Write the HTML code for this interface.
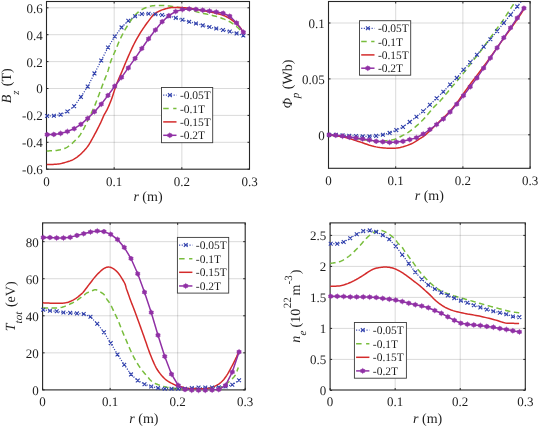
<!DOCTYPE html>
<html><head><meta charset="utf-8"><style>
html,body{margin:0;padding:0;background:#fff;}
body{width:538px;height:427px;overflow:hidden;font-family:"Liberation Serif",serif;}
svg{display:block;filter:blur(0.45px);}
text{text-rendering:geometricPrecision;}
</style></head><body>
<svg width="538" height="427" viewBox="0 0 538 427">
<rect width="538" height="427" fill="#fff"/>
<clipPath id="c1"><rect x="46.5" y="1.5" width="203.0" height="167.7"/></clipPath>
<line x1="46.5" y1="142.30" x2="249.5" y2="142.30" stroke="#262626" stroke-opacity="0.17" stroke-width="1"/>
<line x1="46.5" y1="115.40" x2="249.5" y2="115.40" stroke="#262626" stroke-opacity="0.17" stroke-width="1"/>
<line x1="46.5" y1="88.50" x2="249.5" y2="88.50" stroke="#262626" stroke-opacity="0.17" stroke-width="1"/>
<line x1="46.5" y1="61.60" x2="249.5" y2="61.60" stroke="#262626" stroke-opacity="0.17" stroke-width="1"/>
<line x1="46.5" y1="34.70" x2="249.5" y2="34.70" stroke="#262626" stroke-opacity="0.17" stroke-width="1"/>
<line x1="46.5" y1="7.80" x2="249.5" y2="7.80" stroke="#262626" stroke-opacity="0.17" stroke-width="1"/>
<line x1="114.17" y1="1.5" x2="114.17" y2="169.2" stroke="#262626" stroke-opacity="0.17" stroke-width="1"/>
<line x1="181.83" y1="1.5" x2="181.83" y2="169.2" stroke="#262626" stroke-opacity="0.17" stroke-width="1"/>
<path d="M46.5,169.20 h2 M249.5,169.20 h-2 M46.5,142.30 h2 M249.5,142.30 h-2 M46.5,115.40 h2 M249.5,115.40 h-2 M46.5,88.50 h2 M249.5,88.50 h-2 M46.5,61.60 h2 M249.5,61.60 h-2 M46.5,34.70 h2 M249.5,34.70 h-2 M46.5,7.80 h2 M249.5,7.80 h-2 M46.50,169.2 v-2 M46.50,1.5 v2 M114.17,169.2 v-2 M114.17,1.5 v2 M181.83,169.2 v-2 M181.83,1.5 v2 M249.50,169.2 v-2 M249.50,1.5 v2" stroke="#262626" stroke-width="1" fill="none"/>
<rect x="46.5" y="1.5" width="203.0" height="167.7" fill="none" stroke="#262626" stroke-width="1.1"/>
<g clip-path="url(#c1)"><path d="M46.50,150.90 L46.93,150.90 L47.49,150.89 L48.16,150.89 L48.91,150.88 L49.70,150.87 L50.50,150.86 L51.28,150.83 L52.00,150.80 L52.68,150.76 L53.37,150.72 L54.05,150.67 L54.74,150.61 L55.42,150.55 L56.09,150.48 L56.75,150.39 L57.40,150.30 L58.04,150.20 L58.67,150.08 L59.29,149.96 L59.91,149.83 L60.51,149.69 L61.11,149.54 L61.71,149.38 L62.30,149.20 L62.88,149.02 L63.46,148.83 L64.02,148.63 L64.58,148.43 L65.14,148.20 L65.69,147.96 L66.25,147.69 L66.80,147.40 L67.36,147.08 L67.93,146.73 L68.49,146.35 L69.06,145.96 L69.61,145.55 L70.16,145.13 L70.69,144.72 L71.20,144.30 L71.69,143.88 L72.17,143.44 L72.63,142.99 L73.08,142.54 L73.52,142.09 L73.95,141.64 L74.38,141.21 L74.80,140.80 L75.20,140.44 L75.57,140.13 L75.93,139.84 L76.28,139.56 L76.64,139.25 L77.02,138.89 L77.44,138.45 L77.90,137.90 L78.41,137.24 L78.97,136.50 L79.56,135.69 L80.18,134.82 L80.80,133.90 L81.42,132.95 L82.02,131.98 L82.60,131.00 L83.14,130.02 L83.66,129.02 L84.16,128.01 L84.66,126.96 L85.17,125.86 L85.71,124.71 L86.28,123.49 L86.90,122.20 L87.59,120.78 L88.36,119.22 L89.17,117.58 L89.99,115.89 L90.82,114.20 L91.61,112.56 L92.34,111.01 L93.00,109.60 L93.57,108.34 L94.08,107.19 L94.54,106.12 L94.96,105.10 L95.37,104.11 L95.77,103.11 L96.17,102.09 L96.60,101.00 L97.04,99.86 L97.48,98.71 L97.92,97.53 L98.36,96.35 L98.79,95.16 L99.23,93.97 L99.66,92.78 L100.10,91.60 L100.53,90.43 L100.96,89.28 L101.39,88.12 L101.81,86.97 L102.24,85.81 L102.68,84.63 L103.13,83.43 L103.60,82.20 L104.09,80.94 L104.60,79.65 L105.13,78.35 L105.67,77.03 L106.20,75.69 L106.72,74.36 L107.23,73.02 L107.70,71.70 L108.14,70.38 L108.54,69.05 L108.92,67.71 L109.29,66.38 L109.66,65.05 L110.04,63.72 L110.45,62.41 L110.90,61.10 L111.38,59.81 L111.89,58.53 L112.42,57.27 L112.97,56.01 L113.52,54.74 L114.09,53.48 L114.65,52.20 L115.20,50.90 L115.75,49.57 L116.31,48.22 L116.87,46.85 L117.44,45.47 L118.00,44.11 L118.57,42.77 L119.14,41.46 L119.70,40.20 L120.26,38.98 L120.83,37.78 L121.40,36.61 L121.96,35.47 L122.53,34.35 L123.09,33.27 L123.65,32.22 L124.20,31.20 L124.74,30.23 L125.27,29.32 L125.80,28.44 L126.32,27.59 L126.85,26.76 L127.38,25.92 L127.93,25.08 L128.50,24.20 L129.08,23.30 L129.65,22.38 L130.24,21.45 L130.83,20.52 L131.45,19.59 L132.09,18.68 L132.77,17.78 L133.50,16.90 L134.26,16.03 L135.05,15.16 L135.87,14.30 L136.72,13.45 L137.60,12.63 L138.53,11.84 L139.49,11.09 L140.50,10.40 L141.56,9.75 L142.69,9.13 L143.86,8.54 L145.06,7.99 L146.29,7.49 L147.53,7.04 L148.77,6.64 L150.00,6.30 L151.25,6.03 L152.53,5.84 L153.84,5.71 L155.15,5.62 L156.44,5.57 L157.69,5.55 L158.89,5.52 L160.00,5.50 L161.04,5.48 L162.03,5.49 L162.97,5.52 L163.87,5.56 L164.73,5.62 L165.55,5.68 L166.34,5.74 L167.10,5.80 L167.78,5.85 L168.36,5.91 L168.88,5.96 L169.38,6.03 L169.90,6.10 L170.48,6.18 L171.17,6.28 L172.00,6.40 L172.99,6.54 L174.09,6.68 L175.28,6.84 L176.54,7.02 L177.85,7.21 L179.18,7.42 L180.50,7.65 L181.80,7.90 L183.11,8.18 L184.48,8.51 L185.87,8.86 L187.27,9.22 L188.65,9.59 L189.98,9.95 L191.24,10.29 L192.40,10.60 L193.43,10.88 L194.33,11.14 L195.14,11.38 L195.92,11.62 L196.70,11.85 L197.53,12.09 L198.45,12.34 L199.50,12.60 L200.70,12.88 L202.02,13.16 L203.42,13.45 L204.87,13.75 L206.34,14.05 L207.81,14.36 L209.24,14.68 L210.60,15.00 L211.91,15.32 L213.20,15.65 L214.47,15.97 L215.73,16.31 L216.97,16.65 L218.20,17.01 L219.41,17.39 L220.60,17.80 L221.79,18.23 L222.98,18.68 L224.15,19.16 L225.31,19.64 L226.44,20.15 L227.54,20.66 L228.60,21.18 L229.60,21.70 L230.54,22.22 L231.42,22.74 L232.25,23.26 L233.05,23.79 L233.83,24.35 L234.61,24.93 L235.39,25.54 L236.20,26.20 L237.07,26.95 L238.00,27.82 L238.97,28.74 L239.91,29.68 L240.81,30.59 L241.61,31.41 L242.29,32.09 L242.80,32.60" fill="none" stroke="#78bd3c" stroke-width="1.5" stroke-dasharray="5.5,3.5"/><path d="M46.50,164.60 L47.35,164.57 L48.51,164.55 L49.88,164.52 L51.39,164.47 L52.98,164.42 L54.56,164.34 L56.06,164.24 L57.40,164.10 L58.62,163.93 L59.81,163.72 L60.96,163.49 L62.08,163.24 L63.17,162.97 L64.24,162.68 L65.28,162.39 L66.30,162.10 L67.29,161.81 L68.24,161.51 L69.17,161.21 L70.07,160.90 L70.95,160.57 L71.81,160.21 L72.66,159.82 L73.50,159.40 L74.33,158.94 L75.14,158.44 L75.93,157.92 L76.71,157.37 L77.48,156.80 L78.23,156.21 L78.97,155.61 L79.70,155.00 L80.43,154.37 L81.15,153.70 L81.87,153.01 L82.57,152.31 L83.25,151.60 L83.90,150.91 L84.52,150.24 L85.10,149.60 L85.63,149.00 L86.11,148.44 L86.56,147.90 L86.97,147.38 L87.38,146.84 L87.78,146.30 L88.18,145.72 L88.60,145.10 L89.02,144.47 L89.41,143.84 L89.80,143.20 L90.19,142.54 L90.59,141.83 L91.02,141.07 L91.48,140.23 L92.00,139.30 L92.58,138.24 L93.23,137.05 L93.92,135.77 L94.64,134.44 L95.35,133.09 L96.05,131.78 L96.71,130.54 L97.30,129.40 L97.83,128.37 L98.33,127.41 L98.80,126.49 L99.24,125.62 L99.66,124.77 L100.07,123.92 L100.49,123.07 L100.90,122.20 L101.31,121.31 L101.71,120.41 L102.09,119.52 L102.47,118.62 L102.84,117.74 L103.22,116.88 L103.61,116.03 L104.00,115.20 L104.40,114.43 L104.79,113.73 L105.18,113.07 L105.57,112.41 L105.98,111.72 L106.40,110.98 L106.84,110.15 L107.30,109.20 L107.78,108.15 L108.29,107.03 L108.81,105.85 L109.34,104.60 L109.89,103.28 L110.45,101.89 L111.02,100.43 L111.60,98.90 L112.19,97.24 L112.80,95.44 L113.43,93.53 L114.06,91.57 L114.70,89.61 L115.34,87.67 L115.97,85.82 L116.60,84.10 L117.22,82.50 L117.84,80.99 L118.45,79.54 L119.07,78.13 L119.68,76.75 L120.29,75.38 L120.90,74.01 L121.50,72.60 L122.09,71.18 L122.68,69.77 L123.26,68.36 L123.84,66.96 L124.42,65.55 L125.00,64.14 L125.59,62.73 L126.20,61.30 L126.82,59.85 L127.45,58.38 L128.09,56.89 L128.74,55.41 L129.38,53.93 L130.03,52.48 L130.67,51.07 L131.30,49.70 L131.91,48.39 L132.51,47.13 L133.10,45.91 L133.69,44.71 L134.28,43.52 L134.90,42.33 L135.53,41.13 L136.20,39.90 L136.91,38.64 L137.65,37.35 L138.41,36.05 L139.19,34.75 L139.98,33.46 L140.77,32.20 L141.54,30.97 L142.30,29.80 L143.04,28.68 L143.77,27.60 L144.49,26.55 L145.21,25.53 L145.93,24.53 L146.65,23.54 L147.37,22.57 L148.10,21.60 L148.83,20.62 L149.57,19.62 L150.30,18.63 L151.04,17.66 L151.78,16.72 L152.52,15.84 L153.26,15.02 L154.00,14.30 L154.75,13.67 L155.50,13.12 L156.26,12.64 L157.02,12.22 L157.77,11.84 L158.53,11.48 L159.27,11.14 L160.00,10.80 L160.72,10.47 L161.43,10.18 L162.13,9.90 L162.83,9.66 L163.52,9.43 L164.21,9.21 L164.90,9.00 L165.60,8.80 L166.29,8.60 L166.96,8.42 L167.62,8.25 L168.29,8.09 L168.97,7.94 L169.67,7.81 L170.41,7.70 L171.20,7.60 L172.04,7.52 L172.92,7.46 L173.84,7.42 L174.79,7.39 L175.75,7.38 L176.71,7.38 L177.66,7.38 L178.60,7.40 L179.52,7.43 L180.45,7.47 L181.37,7.52 L182.29,7.58 L183.22,7.65 L184.14,7.73 L185.07,7.81 L186.00,7.90 L186.93,7.99 L187.87,8.09 L188.81,8.19 L189.75,8.29 L190.69,8.41 L191.63,8.53 L192.57,8.66 L193.50,8.80 L194.43,8.95 L195.36,9.11 L196.28,9.29 L197.21,9.47 L198.13,9.65 L199.05,9.84 L199.98,10.02 L200.90,10.20 L201.84,10.38 L202.79,10.55 L203.75,10.73 L204.71,10.91 L205.65,11.09 L206.57,11.26 L207.46,11.43 L208.30,11.60 L209.08,11.75 L209.80,11.90 L210.47,12.03 L211.13,12.16 L211.78,12.30 L212.47,12.45 L213.20,12.61 L214.00,12.80 L214.88,13.00 L215.83,13.22 L216.82,13.45 L217.84,13.69 L218.87,13.94 L219.89,14.21 L220.87,14.50 L221.80,14.80 L222.69,15.12 L223.56,15.46 L224.41,15.81 L225.24,16.18 L226.05,16.57 L226.85,16.96 L227.63,17.38 L228.40,17.80 L229.15,18.24 L229.87,18.68 L230.57,19.14 L231.26,19.62 L231.94,20.11 L232.62,20.62 L233.31,21.15 L234.00,21.70 L234.72,22.28 L235.45,22.89 L236.20,23.53 L236.94,24.18 L237.67,24.84 L238.36,25.50 L239.01,26.16 L239.60,26.80 L240.15,27.46 L240.66,28.17 L241.15,28.90 L241.60,29.62 L242.01,30.30 L242.36,30.90 L242.66,31.41 L242.90,31.80" fill="none" stroke="#d42b2b" stroke-width="1.5"/><path d="M47.10,116.00 L53.87,115.80 L60.63,114.60 L67.40,111.50 L74.17,106.20 L80.93,96.90 L87.70,86.60 L94.47,73.40 L101.23,60.50 L108.00,47.50 L114.77,36.50 L121.53,27.40 L128.30,20.70 L135.07,16.20 L141.83,14.00 L148.60,13.80 L155.37,14.30 L162.13,15.00 L168.90,16.20 L175.67,17.90 L182.43,19.80 L189.20,21.70 L195.97,23.50 L202.73,25.40 L209.50,27.00 L216.27,28.50 L223.03,30.00 L229.80,31.50 L236.57,33.40 L243.33,35.50" fill="none" stroke="#3242ad" stroke-width="1.25" stroke-dasharray="1.1,1.5"/><path d="M47.10,134.60 L53.87,134.40 L60.63,133.40 L67.40,131.50 L74.17,128.70 L80.93,124.30 L87.70,118.40 L94.47,111.70 L101.23,104.20 L108.00,95.40 L114.77,86.20 L121.53,77.40 L128.30,67.90 L135.07,58.40 L141.83,48.50 L148.60,38.80 L155.37,30.00 L162.13,21.70 L168.90,15.70 L175.67,11.50 L182.43,9.50 L189.20,8.90 L195.97,9.30 L202.73,10.20 L209.50,11.00 L216.27,12.00 L223.03,13.20 L229.80,16.20 L236.57,22.90 L243.33,32.20" fill="none" stroke="#9030a5" stroke-width="1.5"/></g>
<path d="M45.20,114.10 L49.00,117.90 M45.20,117.90 L49.00,114.10 M51.97,113.90 L55.77,117.70 M51.97,117.70 L55.77,113.90 M58.73,112.70 L62.53,116.50 M58.73,116.50 L62.53,112.70 M65.50,109.60 L69.30,113.40 M65.50,113.40 L69.30,109.60 M72.27,104.30 L76.07,108.10 M72.27,108.10 L76.07,104.30 M79.03,95.00 L82.83,98.80 M79.03,98.80 L82.83,95.00 M85.80,84.70 L89.60,88.50 M85.80,88.50 L89.60,84.70 M92.57,71.50 L96.37,75.30 M92.57,75.30 L96.37,71.50 M99.33,58.60 L103.13,62.40 M99.33,62.40 L103.13,58.60 M106.10,45.60 L109.90,49.40 M106.10,49.40 L109.90,45.60 M112.87,34.60 L116.67,38.40 M112.87,38.40 L116.67,34.60 M119.63,25.50 L123.43,29.30 M119.63,29.30 L123.43,25.50 M126.40,18.80 L130.20,22.60 M126.40,22.60 L130.20,18.80 M133.17,14.30 L136.97,18.10 M133.17,18.10 L136.97,14.30 M139.93,12.10 L143.73,15.90 M139.93,15.90 L143.73,12.10 M146.70,11.90 L150.50,15.70 M146.70,15.70 L150.50,11.90 M153.47,12.40 L157.27,16.20 M153.47,16.20 L157.27,12.40 M160.23,13.10 L164.03,16.90 M160.23,16.90 L164.03,13.10 M167.00,14.30 L170.80,18.10 M167.00,18.10 L170.80,14.30 M173.77,16.00 L177.57,19.80 M173.77,19.80 L177.57,16.00 M180.53,17.90 L184.33,21.70 M180.53,21.70 L184.33,17.90 M187.30,19.80 L191.10,23.60 M187.30,23.60 L191.10,19.80 M194.07,21.60 L197.87,25.40 M194.07,25.40 L197.87,21.60 M200.83,23.50 L204.63,27.30 M200.83,27.30 L204.63,23.50 M207.60,25.10 L211.40,28.90 M207.60,28.90 L211.40,25.10 M214.37,26.60 L218.17,30.40 M214.37,30.40 L218.17,26.60 M221.13,28.10 L224.93,31.90 M221.13,31.90 L224.93,28.10 M227.90,29.60 L231.70,33.40 M227.90,33.40 L231.70,29.60 M234.67,31.50 L238.47,35.30 M234.67,35.30 L238.47,31.50 M241.43,33.60 L245.23,37.40 M241.43,37.40 L245.23,33.60" fill="none" stroke="#3242ad" stroke-width="1.1"/><path d="M47.10,132.10 L48.02,133.00 L49.27,133.35 L48.95,134.60 L49.27,135.85 L48.02,136.20 L47.10,137.10 L46.18,136.20 L44.93,135.85 L45.25,134.60 L44.93,133.35 L46.17,133.00Z M53.87,131.90 L54.79,132.80 L56.03,133.15 L55.72,134.40 L56.03,135.65 L54.79,136.00 L53.87,136.90 L52.94,136.00 L51.70,135.65 L52.02,134.40 L51.70,133.15 L52.94,132.80Z M60.63,130.90 L61.56,131.80 L62.80,132.15 L62.48,133.40 L62.80,134.65 L61.56,135.00 L60.63,135.90 L59.71,135.00 L58.47,134.65 L58.78,133.40 L58.47,132.15 L59.71,131.80Z M67.40,129.00 L68.32,129.90 L69.57,130.25 L69.25,131.50 L69.57,132.75 L68.32,133.10 L67.40,134.00 L66.47,133.10 L65.23,132.75 L65.55,131.50 L65.23,130.25 L66.47,129.90Z M74.17,126.20 L75.09,127.10 L76.33,127.45 L76.02,128.70 L76.33,129.95 L75.09,130.30 L74.17,131.20 L73.24,130.30 L72.00,129.95 L72.32,128.70 L72.00,127.45 L73.24,127.10Z M80.93,121.80 L81.86,122.70 L83.10,123.05 L82.78,124.30 L83.10,125.55 L81.86,125.90 L80.93,126.80 L80.01,125.90 L78.77,125.55 L79.08,124.30 L78.77,123.05 L80.01,122.70Z M87.70,115.90 L88.62,116.80 L89.87,117.15 L89.55,118.40 L89.87,119.65 L88.62,120.00 L87.70,120.90 L86.77,120.00 L85.53,119.65 L85.85,118.40 L85.53,117.15 L86.77,116.80Z M94.47,109.20 L95.39,110.10 L96.63,110.45 L96.32,111.70 L96.63,112.95 L95.39,113.30 L94.47,114.20 L93.54,113.30 L92.30,112.95 L92.62,111.70 L92.30,110.45 L93.54,110.10Z M101.23,101.70 L102.16,102.60 L103.40,102.95 L103.08,104.20 L103.40,105.45 L102.16,105.80 L101.23,106.70 L100.31,105.80 L99.07,105.45 L99.38,104.20 L99.07,102.95 L100.31,102.60Z M108.00,92.90 L108.92,93.80 L110.17,94.15 L109.85,95.40 L110.17,96.65 L108.92,97.00 L108.00,97.90 L107.08,97.00 L105.83,96.65 L106.15,95.40 L105.83,94.15 L107.08,93.80Z M114.77,83.70 L115.69,84.60 L116.93,84.95 L116.62,86.20 L116.93,87.45 L115.69,87.80 L114.77,88.70 L113.84,87.80 L112.60,87.45 L112.92,86.20 L112.60,84.95 L113.84,84.60Z M121.53,74.90 L122.46,75.80 L123.70,76.15 L123.38,77.40 L123.70,78.65 L122.46,79.00 L121.53,79.90 L120.61,79.00 L119.37,78.65 L119.68,77.40 L119.37,76.15 L120.61,75.80Z M128.30,65.40 L129.23,66.30 L130.47,66.65 L130.15,67.90 L130.47,69.15 L129.23,69.50 L128.30,70.40 L127.38,69.50 L126.13,69.15 L126.45,67.90 L126.13,66.65 L127.38,66.30Z M135.07,55.90 L135.99,56.80 L137.23,57.15 L136.92,58.40 L137.23,59.65 L135.99,60.00 L135.07,60.90 L134.14,60.00 L132.90,59.65 L133.22,58.40 L132.90,57.15 L134.14,56.80Z M141.83,46.00 L142.76,46.90 L144.00,47.25 L143.68,48.50 L144.00,49.75 L142.76,50.10 L141.83,51.00 L140.91,50.10 L139.67,49.75 L139.98,48.50 L139.67,47.25 L140.91,46.90Z M148.60,36.30 L149.53,37.20 L150.77,37.55 L150.45,38.80 L150.77,40.05 L149.53,40.40 L148.60,41.30 L147.67,40.40 L146.43,40.05 L146.75,38.80 L146.43,37.55 L147.67,37.20Z M155.37,27.50 L156.29,28.40 L157.53,28.75 L157.22,30.00 L157.53,31.25 L156.29,31.60 L155.37,32.50 L154.44,31.60 L153.20,31.25 L153.52,30.00 L153.20,28.75 L154.44,28.40Z M162.13,19.20 L163.06,20.10 L164.30,20.45 L163.98,21.70 L164.30,22.95 L163.06,23.30 L162.13,24.20 L161.21,23.30 L159.97,22.95 L160.28,21.70 L159.97,20.45 L161.21,20.10Z M168.90,13.20 L169.83,14.10 L171.07,14.45 L170.75,15.70 L171.07,16.95 L169.83,17.30 L168.90,18.20 L167.97,17.30 L166.73,16.95 L167.05,15.70 L166.73,14.45 L167.97,14.10Z M175.67,9.00 L176.59,9.90 L177.83,10.25 L177.52,11.50 L177.83,12.75 L176.59,13.10 L175.67,14.00 L174.74,13.10 L173.50,12.75 L173.82,11.50 L173.50,10.25 L174.74,9.90Z M182.43,7.00 L183.36,7.90 L184.60,8.25 L184.28,9.50 L184.60,10.75 L183.36,11.10 L182.43,12.00 L181.51,11.10 L180.27,10.75 L180.58,9.50 L180.27,8.25 L181.51,7.90Z M189.20,6.40 L190.12,7.30 L191.37,7.65 L191.05,8.90 L191.37,10.15 L190.12,10.50 L189.20,11.40 L188.27,10.50 L187.03,10.15 L187.35,8.90 L187.03,7.65 L188.27,7.30Z M195.97,6.80 L196.89,7.70 L198.13,8.05 L197.82,9.30 L198.13,10.55 L196.89,10.90 L195.97,11.80 L195.04,10.90 L193.80,10.55 L194.12,9.30 L193.80,8.05 L195.04,7.70Z M202.73,7.70 L203.66,8.60 L204.90,8.95 L204.58,10.20 L204.90,11.45 L203.66,11.80 L202.73,12.70 L201.81,11.80 L200.57,11.45 L200.88,10.20 L200.57,8.95 L201.81,8.60Z M209.50,8.50 L210.43,9.40 L211.67,9.75 L211.35,11.00 L211.67,12.25 L210.43,12.60 L209.50,13.50 L208.57,12.60 L207.33,12.25 L207.65,11.00 L207.33,9.75 L208.57,9.40Z M216.27,9.50 L217.19,10.40 L218.43,10.75 L218.12,12.00 L218.43,13.25 L217.19,13.60 L216.27,14.50 L215.34,13.60 L214.10,13.25 L214.42,12.00 L214.10,10.75 L215.34,10.40Z M223.03,10.70 L223.96,11.60 L225.20,11.95 L224.88,13.20 L225.20,14.45 L223.96,14.80 L223.03,15.70 L222.11,14.80 L220.87,14.45 L221.18,13.20 L220.87,11.95 L222.11,11.60Z M229.80,13.70 L230.73,14.60 L231.97,14.95 L231.65,16.20 L231.97,17.45 L230.73,17.80 L229.80,18.70 L228.88,17.80 L227.63,17.45 L227.95,16.20 L227.63,14.95 L228.88,14.60Z M236.57,20.40 L237.49,21.30 L238.73,21.65 L238.42,22.90 L238.73,24.15 L237.49,24.50 L236.57,25.40 L235.64,24.50 L234.40,24.15 L234.72,22.90 L234.40,21.65 L235.64,21.30Z M243.33,29.70 L244.26,30.60 L245.50,30.95 L245.18,32.20 L245.50,33.45 L244.26,33.80 L243.33,34.70 L242.41,33.80 L241.17,33.45 L241.48,32.20 L241.17,30.95 L242.41,30.60Z" fill="#9030a5" stroke="#9030a5" stroke-width="0.6"/>
<text x="42.70" y="174.10" text-anchor="end" font-family="Liberation Serif, serif" font-size="13" fill="#1e1e1e">-0.6</text>
<text x="42.70" y="147.20" text-anchor="end" font-family="Liberation Serif, serif" font-size="13" fill="#1e1e1e">-0.4</text>
<text x="42.70" y="120.30" text-anchor="end" font-family="Liberation Serif, serif" font-size="13" fill="#1e1e1e">-0.2</text>
<text x="42.70" y="93.40" text-anchor="end" font-family="Liberation Serif, serif" font-size="13" fill="#1e1e1e">0</text>
<text x="42.70" y="66.50" text-anchor="end" font-family="Liberation Serif, serif" font-size="13" fill="#1e1e1e">0.2</text>
<text x="42.70" y="39.60" text-anchor="end" font-family="Liberation Serif, serif" font-size="13" fill="#1e1e1e">0.4</text>
<text x="42.70" y="12.70" text-anchor="end" font-family="Liberation Serif, serif" font-size="13" fill="#1e1e1e">0.6</text>
<text x="46.50" y="185.50" text-anchor="middle" font-family="Liberation Serif, serif" font-size="13" fill="#1e1e1e">0</text>
<text x="114.17" y="185.50" text-anchor="middle" font-family="Liberation Serif, serif" font-size="13" fill="#1e1e1e">0.1</text>
<text x="181.83" y="185.50" text-anchor="middle" font-family="Liberation Serif, serif" font-size="13" fill="#1e1e1e">0.2</text>
<text x="249.50" y="185.50" text-anchor="middle" font-family="Liberation Serif, serif" font-size="13" fill="#1e1e1e">0.3</text>
<text x="148.00" y="201.20" text-anchor="middle" font-family="Liberation Serif, serif" font-size="14" fill="#1e1e1e"><tspan font-style="italic">r</tspan> (m)</text>
<rect x="161.5" y="87.5" width="51.19999999999999" height="55.19999999999999" fill="#fff" stroke="#3a3a3a" stroke-width="0.9"/>
<path d="M163.20,95.10 H176.50" stroke="#3242ad" stroke-width="1.25" stroke-dasharray="1.1,1.5"/>
<path d="M167.95,93.20 L171.75,97.00 M167.95,97.00 L171.75,93.20" stroke="#3242ad" stroke-width="1.1"/>
<path d="M163.20,108.50 H176.50" stroke="#78bd3c" stroke-width="1.5" stroke-dasharray="5.5,4.5"/>
<path d="M163.20,121.90 H176.50" stroke="#d42b2b" stroke-width="1.5"/>
<path d="M163.20,135.30 H176.50" stroke="#9030a5" stroke-width="1.5"/>
<path d="M169.85,132.80 L170.78,133.70 L172.02,134.05 L171.70,135.30 L172.02,136.55 L170.78,136.90 L169.85,137.80 L168.92,136.90 L167.68,136.55 L168.00,135.30 L167.68,134.05 L168.92,133.70Z" fill="#9030a5" stroke="#9030a5" stroke-width="0.6"/>
<text x="179.90" y="99.10" font-family="Liberation Serif, serif" font-size="11.5" fill="#1e1e1e">-0.05T</text>
<text x="179.90" y="112.50" font-family="Liberation Serif, serif" font-size="11.5" fill="#1e1e1e">-0.1T</text>
<text x="179.90" y="125.90" font-family="Liberation Serif, serif" font-size="11.5" fill="#1e1e1e">-0.15T</text>
<text x="179.90" y="139.30" font-family="Liberation Serif, serif" font-size="11.5" fill="#1e1e1e">-0.2T</text>
<clipPath id="c2"><rect x="328.5" y="1.5" width="201.60000000000002" height="166.8"/></clipPath>
<line x1="328.5" y1="134.80" x2="530.1" y2="134.80" stroke="#262626" stroke-opacity="0.17" stroke-width="1"/>
<line x1="328.5" y1="78.90" x2="530.1" y2="78.90" stroke="#262626" stroke-opacity="0.17" stroke-width="1"/>
<line x1="328.5" y1="23.00" x2="530.1" y2="23.00" stroke="#262626" stroke-opacity="0.17" stroke-width="1"/>
<line x1="395.70" y1="1.5" x2="395.70" y2="168.3" stroke="#262626" stroke-opacity="0.17" stroke-width="1"/>
<line x1="462.90" y1="1.5" x2="462.90" y2="168.3" stroke="#262626" stroke-opacity="0.17" stroke-width="1"/>
<path d="M328.5,134.80 h2 M530.1,134.80 h-2 M328.5,78.90 h2 M530.1,78.90 h-2 M328.5,23.00 h2 M530.1,23.00 h-2 M328.50,168.3 v-2 M328.50,1.5 v2 M395.70,168.3 v-2 M395.70,1.5 v2 M462.90,168.3 v-2 M462.90,1.5 v2 M530.10,168.3 v-2 M530.10,1.5 v2" stroke="#262626" stroke-width="1" fill="none"/>
<rect x="328.5" y="1.5" width="201.60000000000002" height="166.8" fill="none" stroke="#262626" stroke-width="1.1"/>
<g clip-path="url(#c2)"><path d="M328.50,134.90 L329.75,135.04 L331.42,135.23 L333.41,135.46 L335.62,135.71 L337.94,135.98 L340.28,136.26 L342.53,136.54 L344.60,136.80 L346.54,137.06 L348.47,137.34 L350.38,137.62 L352.28,137.90 L354.14,138.18 L355.97,138.46 L357.76,138.74 L359.50,139.00 L361.19,139.26 L362.85,139.54 L364.47,139.81 L366.06,140.08 L367.60,140.33 L369.11,140.55 L370.57,140.75 L372.00,140.90 L373.36,141.02 L374.64,141.11 L375.86,141.18 L377.06,141.22 L378.24,141.23 L379.45,141.22 L380.69,141.17 L382.00,141.10 L383.40,141.00 L384.87,140.87 L386.39,140.72 L387.92,140.53 L389.44,140.32 L390.91,140.08 L392.31,139.80 L393.60,139.50 L394.78,139.16 L395.86,138.80 L396.87,138.40 L397.84,137.97 L398.78,137.51 L399.72,137.03 L400.69,136.53 L401.70,136.00 L402.75,135.45 L403.83,134.88 L404.91,134.27 L406.00,133.65 L407.09,133.00 L408.17,132.33 L409.25,131.62 L410.30,130.90 L411.34,130.14 L412.38,129.35 L413.42,128.52 L414.44,127.68 L415.46,126.81 L416.46,125.94 L417.44,125.07 L418.40,124.20 L419.33,123.35 L420.22,122.51 L421.10,121.67 L421.96,120.83 L422.82,119.96 L423.69,119.05 L424.58,118.11 L425.50,117.10 L426.46,116.01 L427.46,114.84 L428.48,113.60 L429.51,112.34 L430.53,111.08 L431.55,109.86 L432.54,108.68 L433.50,107.60 L434.40,106.64 L435.24,105.81 L436.04,105.04 L436.84,104.30 L437.66,103.53 L438.52,102.69 L439.46,101.73 L440.50,100.60 L441.67,99.26 L442.96,97.74 L444.34,96.10 L445.76,94.38 L447.18,92.65 L448.57,90.96 L449.89,89.35 L451.10,87.90 L452.21,86.58 L453.26,85.34 L454.26,84.16 L455.22,83.04 L456.14,81.95 L457.04,80.89 L457.92,79.85 L458.80,78.80 L459.65,77.78 L460.46,76.81 L461.23,75.88 L461.99,74.96 L462.75,74.04 L463.51,73.10 L464.29,72.12 L465.10,71.10 L465.94,70.01 L466.81,68.88 L467.70,67.71 L468.59,66.52 L469.48,65.34 L470.37,64.16 L471.24,63.01 L472.10,61.90 L472.94,60.83 L473.77,59.80 L474.60,58.78 L475.42,57.77 L476.23,56.78 L477.03,55.79 L477.82,54.80 L478.60,53.80 L479.37,52.80 L480.11,51.80 L480.85,50.80 L481.58,49.81 L482.31,48.81 L483.03,47.81 L483.76,46.81 L484.50,45.80 L485.25,44.79 L485.99,43.77 L486.74,42.75 L487.49,41.73 L488.25,40.70 L489.00,39.67 L489.75,38.64 L490.50,37.60 L491.25,36.56 L492.00,35.51 L492.75,34.45 L493.50,33.39 L494.25,32.34 L495.00,31.28 L495.75,30.24 L496.50,29.20 L497.25,28.18 L498.01,27.16 L498.77,26.16 L499.53,25.16 L500.29,24.15 L501.04,23.15 L501.77,22.13 L502.50,21.10 L503.21,20.06 L503.90,19.02 L504.58,17.97 L505.25,16.91 L505.92,15.85 L506.60,14.78 L507.29,13.69 L508.00,12.60 L508.74,11.47 L509.52,10.28 L510.32,9.07 L511.12,7.86 L511.91,6.68 L512.66,5.54 L513.37,4.47 L514.00,3.50 L514.58,2.60 L515.13,1.74 L515.65,0.93 L516.12,0.18 L516.55,-0.50 L516.93,-1.10 L517.25,-1.60 L517.50,-2.00" fill="none" stroke="#78bd3c" stroke-width="1.5" stroke-dasharray="5.5,3.5"/><path d="M328.50,134.90 L329.75,135.06 L331.42,135.26 L333.41,135.49 L335.62,135.76 L337.94,136.07 L340.28,136.41 L342.53,136.79 L344.60,137.20 L346.52,137.66 L348.41,138.19 L350.28,138.75 L352.13,139.35 L353.97,139.97 L355.81,140.59 L357.65,141.20 L359.50,141.80 L361.35,142.40 L363.20,143.04 L365.05,143.68 L366.90,144.32 L368.75,144.95 L370.60,145.53 L372.45,146.05 L374.30,146.50 L376.18,146.88 L378.11,147.22 L380.05,147.51 L381.98,147.75 L383.89,147.95 L385.74,148.11 L387.52,148.22 L389.20,148.30 L390.77,148.34 L392.24,148.33 L393.64,148.28 L394.98,148.19 L396.30,148.06 L397.61,147.89 L398.93,147.66 L400.30,147.40 L401.71,147.08 L403.14,146.72 L404.58,146.30 L406.01,145.84 L407.43,145.35 L408.83,144.82 L410.19,144.27 L411.50,143.70 L412.78,143.08 L414.05,142.39 L415.31,141.66 L416.53,140.90 L417.70,140.14 L418.81,139.41 L419.85,138.72 L420.80,138.10 L421.61,137.59 L422.27,137.19 L422.82,136.85 L423.33,136.52 L423.85,136.17 L424.43,135.72 L425.13,135.15 L426.00,134.40 L427.01,133.49 L428.10,132.49 L429.26,131.39 L430.51,130.19 L431.84,128.89 L433.26,127.49 L434.78,125.99 L436.40,124.40 L438.15,122.70 L440.06,120.91 L442.08,119.01 L444.17,117.02 L446.32,114.93 L448.48,112.74 L450.62,110.47 L452.70,108.10 L454.75,105.60 L456.79,102.94 L458.84,100.16 L460.89,97.30 L462.95,94.40 L465.00,91.49 L467.05,88.61 L469.10,85.80 L471.15,83.05 L473.20,80.32 L475.25,77.61 L477.30,74.89 L479.35,72.18 L481.40,69.44 L483.45,66.69 L485.50,63.90 L487.55,61.08 L489.60,58.23 L491.65,55.35 L493.71,52.46 L495.76,49.57 L497.81,46.67 L499.85,43.78 L501.90,40.90 L504.02,37.94 L506.23,34.84 L508.49,31.69 L510.73,28.56 L512.88,25.55 L514.88,22.73 L516.68,20.19 L518.20,18.00 L519.45,16.17 L520.48,14.60 L521.33,13.28 L522.02,12.17 L522.58,11.24 L523.04,10.45 L523.44,9.78 L523.80,9.20" fill="none" stroke="#d42b2b" stroke-width="1.5"/><path d="M329.10,134.90 L335.82,134.90 L342.54,135.30 L349.26,135.70 L355.98,136.10 L362.70,136.40 L369.42,136.40 L376.14,135.90 L382.86,134.80 L389.58,132.90 L396.30,130.10 L403.02,127.00 L409.74,121.90 L416.46,116.70 L423.18,111.20 L429.90,104.80 L436.62,98.20 L443.34,91.70 L450.06,84.50 L456.78,77.90 L463.50,69.70 L470.22,62.20 L476.94,54.70 L483.66,46.80 L490.38,39.30 L497.10,31.10 L503.82,22.90 L510.54,14.70 L517.26,6.50 L523.98,-1.70" fill="none" stroke="#3242ad" stroke-width="1.25" stroke-dasharray="1.1,1.5"/><path d="M329.10,134.90 L335.82,135.30 L342.54,136.20 L349.26,137.20 L355.98,138.10 L362.70,139.00 L369.42,140.00 L376.14,141.30 L382.86,141.80 L389.58,142.40 L396.30,142.00 L403.02,141.30 L409.74,139.60 L416.46,137.70 L423.18,134.00 L429.90,129.50 L436.62,124.50 L443.34,118.90 L450.06,112.00 L456.78,104.10 L463.50,95.60 L470.22,86.80 L476.94,77.90 L483.66,68.10 L490.38,58.00 L497.10,47.80 L503.82,37.70 L510.54,27.80 L517.26,18.00 L523.98,8.20" fill="none" stroke="#9030a5" stroke-width="1.5"/></g>
<path d="M327.20,133.00 L331.00,136.80 M327.20,136.80 L331.00,133.00 M333.92,133.00 L337.72,136.80 M333.92,136.80 L337.72,133.00 M340.64,133.40 L344.44,137.20 M340.64,137.20 L344.44,133.40 M347.36,133.80 L351.16,137.60 M347.36,137.60 L351.16,133.80 M354.08,134.20 L357.88,138.00 M354.08,138.00 L357.88,134.20 M360.80,134.50 L364.60,138.30 M360.80,138.30 L364.60,134.50 M367.52,134.50 L371.32,138.30 M367.52,138.30 L371.32,134.50 M374.24,134.00 L378.04,137.80 M374.24,137.80 L378.04,134.00 M380.96,132.90 L384.76,136.70 M380.96,136.70 L384.76,132.90 M387.68,131.00 L391.48,134.80 M387.68,134.80 L391.48,131.00 M394.40,128.20 L398.20,132.00 M394.40,132.00 L398.20,128.20 M401.12,125.10 L404.92,128.90 M401.12,128.90 L404.92,125.10 M407.84,120.00 L411.64,123.80 M407.84,123.80 L411.64,120.00 M414.56,114.80 L418.36,118.60 M414.56,118.60 L418.36,114.80 M421.28,109.30 L425.08,113.10 M421.28,113.10 L425.08,109.30 M428.00,102.90 L431.80,106.70 M428.00,106.70 L431.80,102.90 M434.72,96.30 L438.52,100.10 M434.72,100.10 L438.52,96.30 M441.44,89.80 L445.24,93.60 M441.44,93.60 L445.24,89.80 M448.16,82.60 L451.96,86.40 M448.16,86.40 L451.96,82.60 M454.88,76.00 L458.68,79.80 M454.88,79.80 L458.68,76.00 M461.60,67.80 L465.40,71.60 M461.60,71.60 L465.40,67.80 M468.32,60.30 L472.12,64.10 M468.32,64.10 L472.12,60.30 M475.04,52.80 L478.84,56.60 M475.04,56.60 L478.84,52.80 M481.76,44.90 L485.56,48.70 M481.76,48.70 L485.56,44.90 M488.48,37.40 L492.28,41.20 M488.48,41.20 L492.28,37.40 M495.20,29.20 L499.00,33.00 M495.20,33.00 L499.00,29.20 M501.92,21.00 L505.72,24.80 M501.92,24.80 L505.72,21.00 M508.64,12.80 L512.44,16.60 M508.64,16.60 L512.44,12.80 M515.36,4.60 L519.16,8.40 M515.36,8.40 L519.16,4.60" fill="none" stroke="#3242ad" stroke-width="1.1"/><path d="M329.10,132.40 L330.03,133.30 L331.27,133.65 L330.95,134.90 L331.27,136.15 L330.03,136.50 L329.10,137.40 L328.18,136.50 L326.93,136.15 L327.25,134.90 L326.93,133.65 L328.18,133.30Z M335.82,132.80 L336.75,133.70 L337.99,134.05 L337.67,135.30 L337.99,136.55 L336.75,136.90 L335.82,137.80 L334.90,136.90 L333.65,136.55 L333.97,135.30 L333.65,134.05 L334.90,133.70Z M342.54,133.70 L343.47,134.60 L344.71,134.95 L344.39,136.20 L344.71,137.45 L343.47,137.80 L342.54,138.70 L341.62,137.80 L340.37,137.45 L340.69,136.20 L340.37,134.95 L341.62,134.60Z M349.26,134.70 L350.19,135.60 L351.43,135.95 L351.11,137.20 L351.43,138.45 L350.19,138.80 L349.26,139.70 L348.34,138.80 L347.09,138.45 L347.41,137.20 L347.09,135.95 L348.34,135.60Z M355.98,135.60 L356.91,136.50 L358.15,136.85 L357.83,138.10 L358.15,139.35 L356.91,139.70 L355.98,140.60 L355.06,139.70 L353.81,139.35 L354.13,138.10 L353.81,136.85 L355.06,136.50Z M362.70,136.50 L363.63,137.40 L364.87,137.75 L364.55,139.00 L364.87,140.25 L363.63,140.60 L362.70,141.50 L361.78,140.60 L360.53,140.25 L360.85,139.00 L360.53,137.75 L361.78,137.40Z M369.42,137.50 L370.35,138.40 L371.59,138.75 L371.27,140.00 L371.59,141.25 L370.35,141.60 L369.42,142.50 L368.50,141.60 L367.25,141.25 L367.57,140.00 L367.25,138.75 L368.50,138.40Z M376.14,138.80 L377.07,139.70 L378.31,140.05 L377.99,141.30 L378.31,142.55 L377.07,142.90 L376.14,143.80 L375.22,142.90 L373.97,142.55 L374.29,141.30 L373.97,140.05 L375.22,139.70Z M382.86,139.30 L383.79,140.20 L385.03,140.55 L384.71,141.80 L385.03,143.05 L383.79,143.40 L382.86,144.30 L381.94,143.40 L380.69,143.05 L381.01,141.80 L380.69,140.55 L381.94,140.20Z M389.58,139.90 L390.51,140.80 L391.75,141.15 L391.43,142.40 L391.75,143.65 L390.51,144.00 L389.58,144.90 L388.66,144.00 L387.41,143.65 L387.73,142.40 L387.41,141.15 L388.66,140.80Z M396.30,139.50 L397.23,140.40 L398.47,140.75 L398.15,142.00 L398.47,143.25 L397.23,143.60 L396.30,144.50 L395.38,143.60 L394.13,143.25 L394.45,142.00 L394.13,140.75 L395.38,140.40Z M403.02,138.80 L403.95,139.70 L405.19,140.05 L404.87,141.30 L405.19,142.55 L403.95,142.90 L403.02,143.80 L402.10,142.90 L400.85,142.55 L401.17,141.30 L400.85,140.05 L402.10,139.70Z M409.74,137.10 L410.67,138.00 L411.91,138.35 L411.59,139.60 L411.91,140.85 L410.67,141.20 L409.74,142.10 L408.81,141.20 L407.57,140.85 L407.89,139.60 L407.57,138.35 L408.81,138.00Z M416.46,135.20 L417.39,136.10 L418.63,136.45 L418.31,137.70 L418.63,138.95 L417.39,139.30 L416.46,140.20 L415.54,139.30 L414.29,138.95 L414.61,137.70 L414.29,136.45 L415.54,136.10Z M423.18,131.50 L424.11,132.40 L425.35,132.75 L425.03,134.00 L425.35,135.25 L424.11,135.60 L423.18,136.50 L422.26,135.60 L421.01,135.25 L421.33,134.00 L421.01,132.75 L422.26,132.40Z M429.90,127.00 L430.83,127.90 L432.07,128.25 L431.75,129.50 L432.07,130.75 L430.83,131.10 L429.90,132.00 L428.98,131.10 L427.73,130.75 L428.05,129.50 L427.73,128.25 L428.98,127.90Z M436.62,122.00 L437.55,122.90 L438.79,123.25 L438.47,124.50 L438.79,125.75 L437.55,126.10 L436.62,127.00 L435.69,126.10 L434.45,125.75 L434.77,124.50 L434.45,123.25 L435.69,122.90Z M443.34,116.40 L444.27,117.30 L445.51,117.65 L445.19,118.90 L445.51,120.15 L444.27,120.50 L443.34,121.40 L442.42,120.50 L441.17,120.15 L441.49,118.90 L441.17,117.65 L442.42,117.30Z M450.06,109.50 L450.99,110.40 L452.23,110.75 L451.91,112.00 L452.23,113.25 L450.99,113.60 L450.06,114.50 L449.14,113.60 L447.89,113.25 L448.21,112.00 L447.89,110.75 L449.14,110.40Z M456.78,101.60 L457.71,102.50 L458.95,102.85 L458.63,104.10 L458.95,105.35 L457.71,105.70 L456.78,106.60 L455.86,105.70 L454.61,105.35 L454.93,104.10 L454.61,102.85 L455.86,102.50Z M463.50,93.10 L464.43,94.00 L465.67,94.35 L465.35,95.60 L465.67,96.85 L464.43,97.20 L463.50,98.10 L462.58,97.20 L461.33,96.85 L461.65,95.60 L461.33,94.35 L462.58,94.00Z M470.22,84.30 L471.15,85.20 L472.39,85.55 L472.07,86.80 L472.39,88.05 L471.15,88.40 L470.22,89.30 L469.30,88.40 L468.05,88.05 L468.37,86.80 L468.05,85.55 L469.30,85.20Z M476.94,75.40 L477.87,76.30 L479.11,76.65 L478.79,77.90 L479.11,79.15 L477.87,79.50 L476.94,80.40 L476.02,79.50 L474.77,79.15 L475.09,77.90 L474.77,76.65 L476.02,76.30Z M483.66,65.60 L484.59,66.50 L485.83,66.85 L485.51,68.10 L485.83,69.35 L484.59,69.70 L483.66,70.60 L482.74,69.70 L481.49,69.35 L481.81,68.10 L481.49,66.85 L482.74,66.50Z M490.38,55.50 L491.31,56.40 L492.55,56.75 L492.23,58.00 L492.55,59.25 L491.31,59.60 L490.38,60.50 L489.46,59.60 L488.21,59.25 L488.53,58.00 L488.21,56.75 L489.46,56.40Z M497.10,45.30 L498.03,46.20 L499.27,46.55 L498.95,47.80 L499.27,49.05 L498.03,49.40 L497.10,50.30 L496.18,49.40 L494.93,49.05 L495.25,47.80 L494.93,46.55 L496.18,46.20Z M503.82,35.20 L504.75,36.10 L505.99,36.45 L505.67,37.70 L505.99,38.95 L504.75,39.30 L503.82,40.20 L502.90,39.30 L501.65,38.95 L501.97,37.70 L501.65,36.45 L502.90,36.10Z M510.54,25.30 L511.47,26.20 L512.71,26.55 L512.39,27.80 L512.71,29.05 L511.47,29.40 L510.54,30.30 L509.62,29.40 L508.37,29.05 L508.69,27.80 L508.37,26.55 L509.62,26.20Z M517.26,15.50 L518.19,16.40 L519.43,16.75 L519.11,18.00 L519.43,19.25 L518.19,19.60 L517.26,20.50 L516.34,19.60 L515.09,19.25 L515.41,18.00 L515.09,16.75 L516.34,16.40Z M523.98,5.70 L524.90,6.60 L526.15,6.95 L525.83,8.20 L526.15,9.45 L524.90,9.80 L523.98,10.70 L523.06,9.80 L521.81,9.45 L522.13,8.20 L521.81,6.95 L523.06,6.60Z" fill="#9030a5" stroke="#9030a5" stroke-width="0.6"/>
<text x="324.70" y="139.70" text-anchor="end" font-family="Liberation Serif, serif" font-size="13" fill="#1e1e1e">0</text>
<text x="324.70" y="83.80" text-anchor="end" font-family="Liberation Serif, serif" font-size="13" fill="#1e1e1e">0.05</text>
<text x="324.70" y="27.90" text-anchor="end" font-family="Liberation Serif, serif" font-size="13" fill="#1e1e1e">0.1</text>
<text x="328.50" y="184.60" text-anchor="middle" font-family="Liberation Serif, serif" font-size="13" fill="#1e1e1e">0</text>
<text x="395.70" y="184.60" text-anchor="middle" font-family="Liberation Serif, serif" font-size="13" fill="#1e1e1e">0.1</text>
<text x="462.90" y="184.60" text-anchor="middle" font-family="Liberation Serif, serif" font-size="13" fill="#1e1e1e">0.2</text>
<text x="530.10" y="184.60" text-anchor="middle" font-family="Liberation Serif, serif" font-size="13" fill="#1e1e1e">0.3</text>
<text x="429.30" y="199.80" text-anchor="middle" font-family="Liberation Serif, serif" font-size="14" fill="#1e1e1e"><tspan font-style="italic">r</tspan> (m)</text>
<rect x="359.5" y="20.7" width="51.19999999999999" height="54.5" fill="#fff" stroke="#3a3a3a" stroke-width="0.9"/>
<path d="M361.20,28.30 H374.50" stroke="#3242ad" stroke-width="1.25" stroke-dasharray="1.1,1.5"/>
<path d="M365.95,26.40 L369.75,30.20 M365.95,30.20 L369.75,26.40" stroke="#3242ad" stroke-width="1.1"/>
<path d="M361.20,41.60 H374.50" stroke="#78bd3c" stroke-width="1.5" stroke-dasharray="5.5,4.5"/>
<path d="M361.20,54.90 H374.50" stroke="#d42b2b" stroke-width="1.5"/>
<path d="M361.20,68.20 H374.50" stroke="#9030a5" stroke-width="1.5"/>
<path d="M367.85,65.70 L368.78,66.60 L370.02,66.95 L369.70,68.20 L370.02,69.45 L368.78,69.80 L367.85,70.70 L366.93,69.80 L365.68,69.45 L366.00,68.20 L365.68,66.95 L366.93,66.60Z" fill="#9030a5" stroke="#9030a5" stroke-width="0.6"/>
<text x="377.90" y="32.30" font-family="Liberation Serif, serif" font-size="11.5" fill="#1e1e1e">-0.05T</text>
<text x="377.90" y="45.60" font-family="Liberation Serif, serif" font-size="11.5" fill="#1e1e1e">-0.1T</text>
<text x="377.90" y="58.90" font-family="Liberation Serif, serif" font-size="11.5" fill="#1e1e1e">-0.15T</text>
<text x="377.90" y="72.20" font-family="Liberation Serif, serif" font-size="11.5" fill="#1e1e1e">-0.2T</text>
<clipPath id="c3"><rect x="42.6" y="222.9" width="202.6" height="166.99999999999997"/></clipPath>
<line x1="42.6" y1="352.84" x2="245.2" y2="352.84" stroke="#262626" stroke-opacity="0.17" stroke-width="1"/>
<line x1="42.6" y1="315.78" x2="245.2" y2="315.78" stroke="#262626" stroke-opacity="0.17" stroke-width="1"/>
<line x1="42.6" y1="278.72" x2="245.2" y2="278.72" stroke="#262626" stroke-opacity="0.17" stroke-width="1"/>
<line x1="42.6" y1="241.66" x2="245.2" y2="241.66" stroke="#262626" stroke-opacity="0.17" stroke-width="1"/>
<line x1="110.13" y1="222.9" x2="110.13" y2="389.9" stroke="#262626" stroke-opacity="0.17" stroke-width="1"/>
<line x1="177.67" y1="222.9" x2="177.67" y2="389.9" stroke="#262626" stroke-opacity="0.17" stroke-width="1"/>
<path d="M42.6,389.90 h2 M245.2,389.90 h-2 M42.6,352.84 h2 M245.2,352.84 h-2 M42.6,315.78 h2 M245.2,315.78 h-2 M42.6,278.72 h2 M245.2,278.72 h-2 M42.6,241.66 h2 M245.2,241.66 h-2 M42.60,389.9 v-2 M42.60,222.9 v2 M110.13,389.9 v-2 M110.13,222.9 v2 M177.67,389.9 v-2 M177.67,222.9 v2 M245.20,389.9 v-2 M245.20,222.9 v2" stroke="#262626" stroke-width="1" fill="none"/>
<rect x="42.6" y="222.9" width="202.6" height="166.99999999999997" fill="none" stroke="#262626" stroke-width="1.1"/>
<g clip-path="url(#c3)"><path d="M42.60,308.00 L43.80,307.99 L45.48,307.99 L47.48,307.98 L49.66,307.98 L51.87,307.96 L53.97,307.95 L55.79,307.93 L57.20,307.90 L58.18,307.87 L58.88,307.85 L59.36,307.82 L59.70,307.79 L59.96,307.75 L60.22,307.69 L60.54,307.61 L61.00,307.50 L61.57,307.36 L62.18,307.20 L62.81,307.01 L63.46,306.81 L64.11,306.59 L64.76,306.36 L65.39,306.13 L66.00,305.90 L66.58,305.66 L67.15,305.42 L67.70,305.16 L68.25,304.90 L68.80,304.63 L69.35,304.36 L69.92,304.08 L70.50,303.80 L71.10,303.52 L71.73,303.24 L72.36,302.96 L73.00,302.68 L73.64,302.38 L74.27,302.07 L74.90,301.75 L75.50,301.40 L76.09,301.03 L76.67,300.63 L77.25,300.21 L77.81,299.78 L78.37,299.35 L78.92,298.92 L79.46,298.50 L80.00,298.10 L80.53,297.71 L81.06,297.33 L81.58,296.96 L82.09,296.59 L82.60,296.23 L83.08,295.87 L83.55,295.53 L84.00,295.20 L84.40,294.89 L84.74,294.59 L85.05,294.31 L85.35,294.04 L85.67,293.77 L86.03,293.49 L86.47,293.20 L87.00,292.90 L87.66,292.57 L88.45,292.20 L89.31,291.82 L90.21,291.43 L91.11,291.06 L91.97,290.72 L92.75,290.43 L93.40,290.20 L93.92,290.02 L94.33,289.88 L94.67,289.78 L94.96,289.71 L95.23,289.67 L95.51,289.68 L95.83,289.72 L96.20,289.80 L96.62,289.93 L97.07,290.11 L97.53,290.33 L98.01,290.59 L98.50,290.88 L99.00,291.18 L99.50,291.49 L100.00,291.80 L100.52,292.11 L101.05,292.42 L101.61,292.74 L102.16,293.08 L102.71,293.44 L103.24,293.83 L103.74,294.25 L104.20,294.70 L104.61,295.20 L104.99,295.75 L105.33,296.33 L105.66,296.94 L105.97,297.56 L106.30,298.18 L106.64,298.80 L107.00,299.40 L107.39,299.97 L107.78,300.50 L108.18,301.02 L108.59,301.55 L109.00,302.10 L109.43,302.70 L109.86,303.36 L110.30,304.10 L110.75,304.93 L111.21,305.83 L111.67,306.78 L112.14,307.79 L112.62,308.82 L113.11,309.88 L113.60,310.94 L114.10,312.00 L114.61,313.06 L115.14,314.15 L115.68,315.26 L116.22,316.39 L116.77,317.52 L117.30,318.65 L117.81,319.78 L118.30,320.90 L118.76,322.00 L119.18,323.09 L119.59,324.17 L119.98,325.25 L120.38,326.35 L120.79,327.46 L121.23,328.61 L121.70,329.80 L122.21,331.04 L122.75,332.31 L123.31,333.62 L123.88,334.95 L124.46,336.29 L125.05,337.64 L125.63,338.98 L126.20,340.30 L126.76,341.62 L127.33,342.96 L127.89,344.30 L128.45,345.64 L129.01,346.97 L129.57,348.28 L130.14,349.56 L130.70,350.80 L131.25,352.00 L131.80,353.16 L132.33,354.28 L132.87,355.39 L133.42,356.49 L133.99,357.59 L134.58,358.69 L135.20,359.80 L135.85,360.94 L136.53,362.09 L137.24,363.26 L137.96,364.42 L138.69,365.56 L139.43,366.68 L140.16,367.77 L140.90,368.80 L141.64,369.78 L142.38,370.73 L143.13,371.64 L143.88,372.52 L144.64,373.38 L145.39,374.23 L146.15,375.06 L146.90,375.90 L147.62,376.74 L148.29,377.58 L148.95,378.41 L149.61,379.23 L150.31,380.03 L151.08,380.79 L151.93,381.52 L152.90,382.20 L154.00,382.84 L155.21,383.45 L156.52,384.03 L157.88,384.57 L159.29,385.09 L160.71,385.56 L162.12,386.00 L163.50,386.40 L164.79,386.75 L165.98,387.06 L167.13,387.32 L168.32,387.56 L169.60,387.76 L171.03,387.95 L172.67,388.13 L174.60,388.30 L176.90,388.47 L179.56,388.62 L182.46,388.76 L185.50,388.89 L188.57,388.99 L191.57,389.08 L194.38,389.15 L196.90,389.20 L199.19,389.22 L201.37,389.22 L203.44,389.20 L205.39,389.16 L207.23,389.11 L208.95,389.05 L210.54,388.97 L212.00,388.90 L213.27,388.85 L214.32,388.82 L215.20,388.81 L215.99,388.77 L216.72,388.70 L217.47,388.56 L218.27,388.34 L219.20,388.00 L220.25,387.54 L221.36,386.98 L222.51,386.33 L223.68,385.61 L224.85,384.85 L225.99,384.07 L227.08,383.28 L228.10,382.50 L229.06,381.73 L230.00,380.95 L230.91,380.15 L231.79,379.33 L232.62,378.48 L233.40,377.62 L234.13,376.72 L234.80,375.80 L235.41,374.78 L235.98,373.64 L236.50,372.44 L236.97,371.23 L237.38,370.07 L237.75,369.03 L238.05,368.15 L238.30,367.50" fill="none" stroke="#78bd3c" stroke-width="1.5" stroke-dasharray="5.5,3.5"/><path d="M42.60,302.80 L43.27,302.83 L44.14,302.88 L45.17,302.94 L46.33,303.00 L47.57,303.06 L48.86,303.12 L50.15,303.17 L51.40,303.20 L52.69,303.22 L54.10,303.24 L55.57,303.25 L57.06,303.26 L58.50,303.25 L59.86,303.24 L61.07,303.23 L62.10,303.20 L62.92,303.16 L63.57,303.12 L64.09,303.07 L64.51,303.01 L64.88,302.94 L65.23,302.86 L65.59,302.79 L66.00,302.70 L66.42,302.62 L66.80,302.55 L67.15,302.49 L67.51,302.41 L67.88,302.32 L68.29,302.19 L68.75,302.02 L69.30,301.80 L69.94,301.53 L70.64,301.23 L71.41,300.89 L72.21,300.51 L73.04,300.11 L73.88,299.67 L74.70,299.20 L75.50,298.70 L76.31,298.14 L77.16,297.50 L78.04,296.82 L78.90,296.11 L79.73,295.40 L80.51,294.73 L81.21,294.12 L81.80,293.60 L82.24,293.21 L82.54,292.95 L82.75,292.76 L82.90,292.59 L83.05,292.41 L83.26,292.14 L83.56,291.76 L84.00,291.20 L84.59,290.45 L85.28,289.55 L86.06,288.54 L86.89,287.45 L87.75,286.32 L88.62,285.17 L89.48,284.06 L90.30,283.00 L91.09,281.98 L91.87,280.95 L92.64,279.92 L93.42,278.90 L94.22,277.89 L95.02,276.90 L95.85,275.93 L96.70,275.00 L97.60,274.07 L98.53,273.12 L99.50,272.18 L100.48,271.27 L101.45,270.41 L102.40,269.63 L103.33,268.95 L104.20,268.40 L105.01,267.96 L105.78,267.60 L106.51,267.33 L107.22,267.14 L107.94,267.05 L108.66,267.04 L109.41,267.12 L110.20,267.30 L111.04,267.57 L111.90,267.93 L112.79,268.38 L113.69,268.93 L114.60,269.56 L115.51,270.28 L116.41,271.10 L117.30,272.00 L118.21,273.06 L119.16,274.30 L120.13,275.67 L121.09,277.11 L122.02,278.56 L122.88,279.99 L123.65,281.32 L124.30,282.50 L124.81,283.51 L125.18,284.39 L125.46,285.17 L125.67,285.93 L125.87,286.68 L126.08,287.50 L126.35,288.42 L126.70,289.50 L127.14,290.73 L127.61,292.08 L128.12,293.52 L128.66,295.03 L129.21,296.57 L129.77,298.13 L130.34,299.68 L130.90,301.20 L131.46,302.68 L132.02,304.14 L132.59,305.59 L133.16,307.06 L133.75,308.56 L134.35,310.11 L134.97,311.71 L135.60,313.40 L136.27,315.21 L136.97,317.14 L137.70,319.15 L138.44,321.19 L139.17,323.24 L139.88,325.23 L140.57,327.13 L141.20,328.90 L141.78,330.52 L142.31,332.01 L142.82,333.42 L143.30,334.77 L143.78,336.12 L144.26,337.48 L144.76,338.89 L145.30,340.40 L145.85,341.98 L146.40,343.60 L146.96,345.25 L147.53,346.92 L148.12,348.63 L148.74,350.37 L149.40,352.12 L150.10,353.90 L150.84,355.74 L151.62,357.68 L152.43,359.66 L153.28,361.66 L154.14,363.63 L155.04,365.53 L155.96,367.34 L156.90,369.00 L157.87,370.54 L158.89,372.01 L159.93,373.41 L161.00,374.72 L162.08,375.96 L163.16,377.12 L164.24,378.20 L165.30,379.20 L166.37,380.10 L167.48,380.91 L168.60,381.63 L169.71,382.27 L170.79,382.85 L171.83,383.37 L172.81,383.85 L173.70,384.30 L174.47,384.69 L175.11,385.00 L175.67,385.24 L176.20,385.44 L176.73,385.61 L177.31,385.79 L177.99,385.97 L178.80,386.20 L179.75,386.47 L180.79,386.75 L181.91,387.05 L183.09,387.35 L184.31,387.64 L185.55,387.90 L186.78,388.12 L188.00,388.30 L189.23,388.43 L190.51,388.51 L191.82,388.56 L193.14,388.58 L194.43,388.59 L195.69,388.59 L196.89,388.59 L198.00,388.60 L199.02,388.62 L199.95,388.66 L200.82,388.69 L201.66,388.71 L202.47,388.72 L203.29,388.71 L204.12,388.67 L205.00,388.60 L205.91,388.50 L206.84,388.39 L207.78,388.25 L208.72,388.09 L209.67,387.90 L210.61,387.68 L211.56,387.41 L212.50,387.10 L213.45,386.75 L214.41,386.36 L215.38,385.94 L216.34,385.48 L217.30,384.97 L218.23,384.43 L219.13,383.84 L220.00,383.20 L220.82,382.52 L221.61,381.81 L222.36,381.06 L223.09,380.26 L223.82,379.41 L224.54,378.51 L225.26,377.54 L226.00,376.50 L226.76,375.36 L227.54,374.11 L228.32,372.77 L229.09,371.39 L229.86,369.99 L230.61,368.61 L231.32,367.27 L232.00,366.00 L232.65,364.78 L233.29,363.55 L233.91,362.34 L234.51,361.16 L235.07,360.02 L235.59,358.94 L236.07,357.93 L236.50,357.00 L236.87,356.14 L237.20,355.33 L237.49,354.58 L237.73,353.89 L237.94,353.27 L238.12,352.72 L238.27,352.27 L238.40,351.90" fill="none" stroke="#d42b2b" stroke-width="1.5"/><path d="M43.20,309.70 L49.95,310.80 L56.71,311.20 L63.46,312.50 L70.21,312.90 L76.97,313.40 L83.72,314.00 L90.47,316.80 L97.23,323.70 L103.98,332.30 L110.73,343.10 L117.49,354.50 L124.24,364.70 L130.99,374.40 L137.75,380.50 L144.50,384.20 L151.25,386.50 L158.01,388.00 L164.76,388.70 L171.51,388.70 L178.27,388.70 L185.02,388.70 L191.77,388.00 L198.53,387.60 L205.28,387.60 L212.03,387.60 L218.79,387.40 L225.54,386.50 L232.29,384.70 L239.05,380.20" fill="none" stroke="#3242ad" stroke-width="1.25" stroke-dasharray="1.1,1.5"/><path d="M43.20,237.50 L49.95,237.50 L56.71,237.90 L63.46,237.90 L70.21,237.30 L76.97,235.40 L83.72,233.70 L90.47,232.00 L97.23,231.00 L103.98,231.60 L110.73,234.30 L117.49,239.40 L124.24,247.40 L130.99,258.50 L137.75,273.80 L144.50,292.20 L151.25,312.50 L158.01,335.20 L164.76,356.40 L171.51,374.20 L178.27,385.40 L185.02,389.60 L191.77,390.20 L198.53,390.30 L205.28,390.30 L212.03,390.10 L218.79,389.60 L225.54,385.40 L232.29,372.00 L239.05,351.90" fill="none" stroke="#9030a5" stroke-width="1.5"/></g>
<path d="M41.30,307.80 L45.10,311.60 M41.30,311.60 L45.10,307.80 M48.05,308.90 L51.85,312.70 M48.05,312.70 L51.85,308.90 M54.81,309.30 L58.61,313.10 M54.81,313.10 L58.61,309.30 M61.56,310.60 L65.36,314.40 M61.56,314.40 L65.36,310.60 M68.31,311.00 L72.11,314.80 M68.31,314.80 L72.11,311.00 M75.07,311.50 L78.87,315.30 M75.07,315.30 L78.87,311.50 M81.82,312.10 L85.62,315.90 M81.82,315.90 L85.62,312.10 M88.57,314.90 L92.37,318.70 M88.57,318.70 L92.37,314.90 M95.33,321.80 L99.13,325.60 M95.33,325.60 L99.13,321.80 M102.08,330.40 L105.88,334.20 M102.08,334.20 L105.88,330.40 M108.83,341.20 L112.63,345.00 M108.83,345.00 L112.63,341.20 M115.59,352.60 L119.39,356.40 M115.59,356.40 L119.39,352.60 M122.34,362.80 L126.14,366.60 M122.34,366.60 L126.14,362.80 M129.09,372.50 L132.89,376.30 M129.09,376.30 L132.89,372.50 M135.85,378.60 L139.65,382.40 M135.85,382.40 L139.65,378.60 M142.60,382.30 L146.40,386.10 M142.60,386.10 L146.40,382.30 M149.35,384.60 L153.15,388.40 M149.35,388.40 L153.15,384.60 M156.11,386.10 L159.91,389.90 M156.11,389.90 L159.91,386.10 M162.86,386.80 L166.66,390.60 M162.86,390.60 L166.66,386.80 M169.61,386.80 L173.41,390.60 M169.61,390.60 L173.41,386.80 M176.37,386.80 L180.17,390.60 M176.37,390.60 L180.17,386.80 M183.12,386.80 L186.92,390.60 M183.12,390.60 L186.92,386.80 M189.87,386.10 L193.67,389.90 M189.87,389.90 L193.67,386.10 M196.63,385.70 L200.43,389.50 M196.63,389.50 L200.43,385.70 M203.38,385.70 L207.18,389.50 M203.38,389.50 L207.18,385.70 M210.13,385.70 L213.93,389.50 M210.13,389.50 L213.93,385.70 M216.89,385.50 L220.69,389.30 M216.89,389.30 L220.69,385.50 M223.64,384.60 L227.44,388.40 M223.64,388.40 L227.44,384.60 M230.39,382.80 L234.19,386.60 M230.39,386.60 L234.19,382.80 M237.15,378.30 L240.95,382.10 M237.15,382.10 L240.95,378.30" fill="none" stroke="#3242ad" stroke-width="1.1"/><path d="M43.20,235.00 L44.12,235.90 L45.37,236.25 L45.05,237.50 L45.37,238.75 L44.12,239.10 L43.20,240.00 L42.28,239.10 L41.03,238.75 L41.35,237.50 L41.03,236.25 L42.27,235.90Z M49.95,235.00 L50.88,235.90 L52.12,236.25 L51.80,237.50 L52.12,238.75 L50.88,239.10 L49.95,240.00 L49.03,239.10 L47.79,238.75 L48.10,237.50 L47.79,236.25 L49.03,235.90Z M56.71,235.40 L57.63,236.30 L58.87,236.65 L58.56,237.90 L58.87,239.15 L57.63,239.50 L56.71,240.40 L55.78,239.50 L54.54,239.15 L54.86,237.90 L54.54,236.65 L55.78,236.30Z M63.46,235.40 L64.39,236.30 L65.63,236.65 L65.31,237.90 L65.63,239.15 L64.39,239.50 L63.46,240.40 L62.54,239.50 L61.29,239.15 L61.61,237.90 L61.29,236.65 L62.53,236.30Z M70.21,234.80 L71.14,235.70 L72.38,236.05 L72.06,237.30 L72.38,238.55 L71.14,238.90 L70.21,239.80 L69.29,238.90 L68.05,238.55 L68.36,237.30 L68.05,236.05 L69.29,235.70Z M76.97,232.90 L77.89,233.80 L79.13,234.15 L78.82,235.40 L79.13,236.65 L77.89,237.00 L76.97,237.90 L76.04,237.00 L74.80,236.65 L75.12,235.40 L74.80,234.15 L76.04,233.80Z M83.72,231.20 L84.64,232.10 L85.89,232.45 L85.57,233.70 L85.89,234.95 L84.64,235.30 L83.72,236.20 L82.80,235.30 L81.55,234.95 L81.87,233.70 L81.55,232.45 L82.80,232.10Z M90.47,229.50 L91.40,230.40 L92.64,230.75 L92.32,232.00 L92.64,233.25 L91.40,233.60 L90.47,234.50 L89.55,233.60 L88.31,233.25 L88.62,232.00 L88.31,230.75 L89.55,230.40Z M97.23,228.50 L98.15,229.40 L99.39,229.75 L99.08,231.00 L99.39,232.25 L98.15,232.60 L97.23,233.50 L96.30,232.60 L95.06,232.25 L95.38,231.00 L95.06,229.75 L96.30,229.40Z M103.98,229.10 L104.90,230.00 L106.15,230.35 L105.83,231.60 L106.15,232.85 L104.90,233.20 L103.98,234.10 L103.05,233.20 L101.81,232.85 L102.13,231.60 L101.81,230.35 L103.05,230.00Z M110.73,231.80 L111.66,232.70 L112.90,233.05 L112.58,234.30 L112.90,235.55 L111.66,235.90 L110.73,236.80 L109.81,235.90 L108.57,235.55 L108.88,234.30 L108.57,233.05 L109.81,232.70Z M117.49,236.90 L118.41,237.80 L119.65,238.15 L119.34,239.40 L119.65,240.65 L118.41,241.00 L117.49,241.90 L116.56,241.00 L115.32,240.65 L115.64,239.40 L115.32,238.15 L116.56,237.80Z M124.24,244.90 L125.17,245.80 L126.41,246.15 L126.09,247.40 L126.41,248.65 L125.17,249.00 L124.24,249.90 L123.32,249.00 L122.07,248.65 L122.39,247.40 L122.07,246.15 L123.32,245.80Z M130.99,256.00 L131.92,256.90 L133.16,257.25 L132.84,258.50 L133.16,259.75 L131.92,260.10 L130.99,261.00 L130.07,260.10 L128.83,259.75 L129.14,258.50 L128.83,257.25 L130.07,256.90Z M137.75,271.30 L138.67,272.20 L139.91,272.55 L139.60,273.80 L139.91,275.05 L138.67,275.40 L137.75,276.30 L136.82,275.40 L135.58,275.05 L135.90,273.80 L135.58,272.55 L136.82,272.20Z M144.50,289.70 L145.43,290.60 L146.67,290.95 L146.35,292.20 L146.67,293.45 L145.43,293.80 L144.50,294.70 L143.57,293.80 L142.33,293.45 L142.65,292.20 L142.33,290.95 L143.57,290.60Z M151.25,310.00 L152.18,310.90 L153.42,311.25 L153.10,312.50 L153.42,313.75 L152.18,314.10 L151.25,315.00 L150.33,314.10 L149.09,313.75 L149.40,312.50 L149.09,311.25 L150.33,310.90Z M158.01,332.70 L158.93,333.60 L160.17,333.95 L159.86,335.20 L160.17,336.45 L158.93,336.80 L158.01,337.70 L157.08,336.80 L155.84,336.45 L156.16,335.20 L155.84,333.95 L157.08,333.60Z M164.76,353.90 L165.69,354.80 L166.93,355.15 L166.61,356.40 L166.93,357.65 L165.69,358.00 L164.76,358.90 L163.83,358.00 L162.59,357.65 L162.91,356.40 L162.59,355.15 L163.83,354.80Z M171.51,371.70 L172.44,372.60 L173.68,372.95 L173.36,374.20 L173.68,375.45 L172.44,375.80 L171.51,376.70 L170.59,375.80 L169.35,375.45 L169.66,374.20 L169.35,372.95 L170.59,372.60Z M178.27,382.90 L179.19,383.80 L180.43,384.15 L180.12,385.40 L180.43,386.65 L179.19,387.00 L178.27,387.90 L177.34,387.00 L176.10,386.65 L176.42,385.40 L176.10,384.15 L177.34,383.80Z M185.02,387.10 L185.94,388.00 L187.19,388.35 L186.87,389.60 L187.19,390.85 L185.94,391.20 L185.02,392.10 L184.09,391.20 L182.85,390.85 L183.17,389.60 L182.85,388.35 L184.09,388.00Z M191.77,387.70 L192.70,388.60 L193.94,388.95 L193.62,390.20 L193.94,391.45 L192.70,391.80 L191.77,392.70 L190.85,391.80 L189.61,391.45 L189.92,390.20 L189.61,388.95 L190.85,388.60Z M198.53,387.80 L199.45,388.70 L200.69,389.05 L200.38,390.30 L200.69,391.55 L199.45,391.90 L198.53,392.80 L197.60,391.90 L196.36,391.55 L196.68,390.30 L196.36,389.05 L197.60,388.70Z M205.28,387.80 L206.21,388.70 L207.45,389.05 L207.13,390.30 L207.45,391.55 L206.21,391.90 L205.28,392.80 L204.35,391.90 L203.11,391.55 L203.43,390.30 L203.11,389.05 L204.35,388.70Z M212.03,387.60 L212.96,388.50 L214.20,388.85 L213.88,390.10 L214.20,391.35 L212.96,391.70 L212.03,392.60 L211.11,391.70 L209.87,391.35 L210.18,390.10 L209.87,388.85 L211.11,388.50Z M218.79,387.10 L219.71,388.00 L220.95,388.35 L220.64,389.60 L220.95,390.85 L219.71,391.20 L218.79,392.10 L217.86,391.20 L216.62,390.85 L216.94,389.60 L216.62,388.35 L217.86,388.00Z M225.54,382.90 L226.47,383.80 L227.71,384.15 L227.39,385.40 L227.71,386.65 L226.47,387.00 L225.54,387.90 L224.62,387.00 L223.37,386.65 L223.69,385.40 L223.37,384.15 L224.62,383.80Z M232.29,369.50 L233.22,370.40 L234.46,370.75 L234.14,372.00 L234.46,373.25 L233.22,373.60 L232.29,374.50 L231.37,373.60 L230.13,373.25 L230.44,372.00 L230.13,370.75 L231.37,370.40Z M239.05,349.40 L239.97,350.30 L241.21,350.65 L240.90,351.90 L241.21,353.15 L239.97,353.50 L239.05,354.40 L238.12,353.50 L236.88,353.15 L237.20,351.90 L236.88,350.65 L238.12,350.30Z" fill="#9030a5" stroke="#9030a5" stroke-width="0.6"/>
<text x="38.80" y="394.80" text-anchor="end" font-family="Liberation Serif, serif" font-size="13" fill="#1e1e1e">0</text>
<text x="38.80" y="357.74" text-anchor="end" font-family="Liberation Serif, serif" font-size="13" fill="#1e1e1e">20</text>
<text x="38.80" y="320.68" text-anchor="end" font-family="Liberation Serif, serif" font-size="13" fill="#1e1e1e">40</text>
<text x="38.80" y="283.62" text-anchor="end" font-family="Liberation Serif, serif" font-size="13" fill="#1e1e1e">60</text>
<text x="38.80" y="246.56" text-anchor="end" font-family="Liberation Serif, serif" font-size="13" fill="#1e1e1e">80</text>
<text x="42.60" y="406.20" text-anchor="middle" font-family="Liberation Serif, serif" font-size="13" fill="#1e1e1e">0</text>
<text x="110.13" y="406.20" text-anchor="middle" font-family="Liberation Serif, serif" font-size="13" fill="#1e1e1e">0.1</text>
<text x="177.67" y="406.20" text-anchor="middle" font-family="Liberation Serif, serif" font-size="13" fill="#1e1e1e">0.2</text>
<text x="245.20" y="406.20" text-anchor="middle" font-family="Liberation Serif, serif" font-size="13" fill="#1e1e1e">0.3</text>
<text x="143.90" y="422.60" text-anchor="middle" font-family="Liberation Serif, serif" font-size="14" fill="#1e1e1e"><tspan font-style="italic">r</tspan> (m)</text>
<rect x="177.4" y="237.4" width="51.29999999999998" height="55.70000000000002" fill="#fff" stroke="#3a3a3a" stroke-width="0.9"/>
<path d="M179.10,245.00 H192.40" stroke="#3242ad" stroke-width="1.25" stroke-dasharray="1.1,1.5"/>
<path d="M183.85,243.10 L187.65,246.90 M183.85,246.90 L187.65,243.10" stroke="#3242ad" stroke-width="1.1"/>
<path d="M179.10,258.65 H192.40" stroke="#78bd3c" stroke-width="1.5" stroke-dasharray="5.5,4.5"/>
<path d="M179.10,272.30 H192.40" stroke="#d42b2b" stroke-width="1.5"/>
<path d="M179.10,285.95 H192.40" stroke="#9030a5" stroke-width="1.5"/>
<path d="M185.75,283.45 L186.68,284.35 L187.92,284.70 L187.60,285.95 L187.92,287.20 L186.68,287.55 L185.75,288.45 L184.82,287.55 L183.58,287.20 L183.90,285.95 L183.58,284.70 L184.82,284.35Z" fill="#9030a5" stroke="#9030a5" stroke-width="0.6"/>
<text x="195.80" y="249.00" font-family="Liberation Serif, serif" font-size="11.5" fill="#1e1e1e">-0.05T</text>
<text x="195.80" y="262.65" font-family="Liberation Serif, serif" font-size="11.5" fill="#1e1e1e">-0.1T</text>
<text x="195.80" y="276.30" font-family="Liberation Serif, serif" font-size="11.5" fill="#1e1e1e">-0.15T</text>
<text x="195.80" y="289.95" font-family="Liberation Serif, serif" font-size="11.5" fill="#1e1e1e">-0.2T</text>
<clipPath id="c4"><rect x="330.1" y="222.9" width="195.19999999999993" height="167.1"/></clipPath>
<line x1="330.1" y1="359.40" x2="525.3" y2="359.40" stroke="#262626" stroke-opacity="0.17" stroke-width="1"/>
<line x1="330.1" y1="328.40" x2="525.3" y2="328.40" stroke="#262626" stroke-opacity="0.17" stroke-width="1"/>
<line x1="330.1" y1="297.40" x2="525.3" y2="297.40" stroke="#262626" stroke-opacity="0.17" stroke-width="1"/>
<line x1="330.1" y1="266.40" x2="525.3" y2="266.40" stroke="#262626" stroke-opacity="0.17" stroke-width="1"/>
<line x1="330.1" y1="235.40" x2="525.3" y2="235.40" stroke="#262626" stroke-opacity="0.17" stroke-width="1"/>
<line x1="395.17" y1="222.9" x2="395.17" y2="390.0" stroke="#262626" stroke-opacity="0.17" stroke-width="1"/>
<line x1="460.23" y1="222.9" x2="460.23" y2="390.0" stroke="#262626" stroke-opacity="0.17" stroke-width="1"/>
<path d="M330.1,390.40 h2 M525.3,390.40 h-2 M330.1,359.40 h2 M525.3,359.40 h-2 M330.1,328.40 h2 M525.3,328.40 h-2 M330.1,297.40 h2 M525.3,297.40 h-2 M330.1,266.40 h2 M525.3,266.40 h-2 M330.1,235.40 h2 M525.3,235.40 h-2 M330.10,390.0 v-2 M330.10,222.9 v2 M395.17,390.0 v-2 M395.17,222.9 v2 M460.23,390.0 v-2 M460.23,222.9 v2 M525.30,390.0 v-2 M525.30,222.9 v2" stroke="#262626" stroke-width="1" fill="none"/>
<rect x="330.1" y="222.9" width="195.19999999999993" height="167.1" fill="none" stroke="#262626" stroke-width="1.1"/>
<g clip-path="url(#c4)"><path d="M330.10,263.40 L330.64,263.32 L331.36,263.23 L332.22,263.12 L333.17,262.99 L334.17,262.84 L335.17,262.68 L336.13,262.50 L337.00,262.30 L337.79,262.10 L338.55,261.90 L339.28,261.69 L340.01,261.46 L340.75,261.19 L341.50,260.89 L342.28,260.53 L343.10,260.10 L343.96,259.62 L344.85,259.09 L345.77,258.51 L346.70,257.89 L347.65,257.22 L348.62,256.50 L349.61,255.72 L350.60,254.90 L351.62,254.00 L352.68,253.03 L353.76,251.98 L354.85,250.90 L355.94,249.79 L357.02,248.68 L358.08,247.57 L359.10,246.50 L360.09,245.43 L361.08,244.33 L362.04,243.21 L362.99,242.10 L363.93,241.02 L364.84,239.97 L365.73,239.00 L366.60,238.10 L367.45,237.27 L368.29,236.49 L369.11,235.76 L369.91,235.08 L370.68,234.45 L371.42,233.88 L372.13,233.36 L372.80,232.90 L373.42,232.51 L373.98,232.20 L374.50,231.96 L374.99,231.76 L375.48,231.60 L375.96,231.47 L376.46,231.34 L377.00,231.20 L377.56,231.05 L378.14,230.91 L378.73,230.78 L379.32,230.67 L379.92,230.59 L380.51,230.54 L381.11,230.54 L381.70,230.60 L382.29,230.72 L382.88,230.89 L383.46,231.11 L384.05,231.37 L384.64,231.66 L385.22,231.96 L385.81,232.28 L386.40,232.60 L386.99,232.93 L387.60,233.29 L388.21,233.67 L388.81,234.07 L389.41,234.47 L390.00,234.89 L390.56,235.30 L391.10,235.70 L391.61,236.10 L392.10,236.49 L392.58,236.88 L393.04,237.28 L393.49,237.69 L393.93,238.11 L394.36,238.54 L394.80,239.00 L395.23,239.48 L395.64,240.00 L396.04,240.53 L396.44,241.07 L396.84,241.61 L397.25,242.16 L397.67,242.69 L398.10,243.20 L398.56,243.69 L399.04,244.17 L399.53,244.64 L400.03,245.10 L400.53,245.56 L401.01,246.03 L401.47,246.51 L401.90,247.00 L402.30,247.51 L402.67,248.03 L403.02,248.57 L403.36,249.11 L403.69,249.64 L404.02,250.18 L404.36,250.70 L404.70,251.20 L405.05,251.68 L405.39,252.14 L405.73,252.58 L406.07,253.02 L406.41,253.46 L406.76,253.92 L407.13,254.39 L407.50,254.90 L407.90,255.46 L408.33,256.07 L408.77,256.71 L409.22,257.36 L409.66,257.99 L410.08,258.59 L410.46,259.13 L410.80,259.60 L411.06,259.93 L411.23,260.13 L411.36,260.25 L411.48,260.35 L411.61,260.48 L411.80,260.69 L412.09,261.05 L412.50,261.60 L413.05,262.37 L413.70,263.33 L414.43,264.42 L415.23,265.59 L416.07,266.82 L416.92,268.04 L417.77,269.21 L418.60,270.30 L419.41,271.31 L420.23,272.30 L421.05,273.27 L421.89,274.22 L422.75,275.17 L423.61,276.11 L424.50,277.05 L425.40,278.00 L426.33,278.96 L427.27,279.94 L428.24,280.92 L429.22,281.89 L430.22,282.85 L431.21,283.78 L432.21,284.66 L433.20,285.50 L434.17,286.28 L435.13,287.03 L436.08,287.73 L437.03,288.41 L438.01,289.06 L439.02,289.68 L440.08,290.30 L441.20,290.90 L442.40,291.49 L443.66,292.06 L444.97,292.62 L446.32,293.15 L447.68,293.67 L449.04,294.16 L450.39,294.64 L451.70,295.10 L452.99,295.53 L454.26,295.94 L455.54,296.32 L456.81,296.69 L458.07,297.04 L459.32,297.39 L460.56,297.74 L461.80,298.10 L463.02,298.46 L464.22,298.81 L465.41,299.16 L466.59,299.50 L467.77,299.84 L468.96,300.19 L470.17,300.54 L471.40,300.90 L472.66,301.27 L473.93,301.64 L475.22,302.02 L476.52,302.40 L477.82,302.78 L479.12,303.16 L480.42,303.53 L481.70,303.90 L482.97,304.26 L484.24,304.62 L485.51,304.97 L486.78,305.32 L488.04,305.67 L489.29,306.02 L490.55,306.36 L491.80,306.70 L493.06,307.04 L494.33,307.38 L495.61,307.71 L496.88,308.04 L498.13,308.37 L499.36,308.69 L500.55,309.00 L501.70,309.30 L502.82,309.60 L503.93,309.89 L505.02,310.18 L506.08,310.46 L507.10,310.73 L508.06,310.98 L508.97,311.20 L509.80,311.40 L510.54,311.56 L511.19,311.70 L511.77,311.80 L512.31,311.89 L512.81,311.97 L513.32,312.04 L513.84,312.12 L514.40,312.20 L515.02,312.29 L515.70,312.38 L516.40,312.47 L517.09,312.55 L517.74,312.63 L518.33,312.70 L518.83,312.76 L519.20,312.80" fill="none" stroke="#78bd3c" stroke-width="1.5" stroke-dasharray="5.5,3.5"/><path d="M330.10,286.40 L330.51,286.39 L331.05,286.37 L331.70,286.35 L332.43,286.33 L333.19,286.31 L333.96,286.28 L334.71,286.24 L335.40,286.20 L336.06,286.16 L336.72,286.11 L337.39,286.07 L338.05,286.01 L338.71,285.95 L339.35,285.88 L339.98,285.80 L340.60,285.70 L341.19,285.59 L341.76,285.47 L342.31,285.34 L342.85,285.19 L343.39,285.04 L343.94,284.87 L344.51,284.69 L345.10,284.50 L345.72,284.29 L346.35,284.07 L347.00,283.83 L347.66,283.59 L348.32,283.33 L348.98,283.06 L349.65,282.78 L350.30,282.50 L350.95,282.21 L351.60,281.90 L352.26,281.58 L352.91,281.26 L353.56,280.92 L354.21,280.59 L354.86,280.24 L355.50,279.90 L356.13,279.56 L356.74,279.22 L357.34,278.88 L357.94,278.54 L358.55,278.18 L359.17,277.81 L359.82,277.42 L360.50,277.00 L361.21,276.55 L361.95,276.07 L362.72,275.58 L363.49,275.06 L364.29,274.54 L365.09,274.02 L365.89,273.50 L366.70,273.00 L367.51,272.49 L368.34,271.96 L369.18,271.43 L370.02,270.90 L370.87,270.39 L371.71,269.91 L372.56,269.48 L373.40,269.10 L374.24,268.78 L375.07,268.51 L375.91,268.28 L376.75,268.08 L377.59,267.91 L378.43,267.76 L379.26,267.63 L380.10,267.50 L380.94,267.38 L381.78,267.28 L382.62,267.19 L383.46,267.12 L384.29,267.08 L385.13,267.06 L385.97,267.07 L386.80,267.10 L387.63,267.16 L388.45,267.24 L389.28,267.35 L390.10,267.48 L390.92,267.64 L391.75,267.83 L392.57,268.05 L393.40,268.30 L394.23,268.59 L395.07,268.91 L395.91,269.27 L396.74,269.65 L397.58,270.06 L398.42,270.49 L399.26,270.94 L400.10,271.40 L400.94,271.88 L401.78,272.39 L402.61,272.92 L403.45,273.47 L404.29,274.04 L405.13,274.62 L405.96,275.21 L406.80,275.80 L407.64,276.40 L408.48,277.03 L409.32,277.67 L410.16,278.31 L411.00,278.96 L411.84,279.62 L412.67,280.26 L413.50,280.90 L414.33,281.53 L415.15,282.15 L415.97,282.76 L416.79,283.38 L417.61,284.00 L418.41,284.62 L419.21,285.26 L420.00,285.90 L420.78,286.56 L421.57,287.25 L422.35,287.95 L423.12,288.66 L423.88,289.35 L424.62,290.03 L425.33,290.68 L426.00,291.30 L426.63,291.87 L427.23,292.41 L427.80,292.92 L428.35,293.41 L428.89,293.89 L429.42,294.38 L429.95,294.88 L430.50,295.40 L431.04,295.94 L431.57,296.49 L432.09,297.05 L432.61,297.61 L433.14,298.17 L433.69,298.74 L434.27,299.32 L434.90,299.90 L435.57,300.50 L436.29,301.11 L437.04,301.74 L437.81,302.37 L438.59,302.99 L439.37,303.59 L440.14,304.16 L440.90,304.70 L441.63,305.20 L442.34,305.66 L443.05,306.10 L443.76,306.52 L444.47,306.92 L445.21,307.32 L445.99,307.71 L446.80,308.10 L447.63,308.49 L448.46,308.86 L449.31,309.23 L450.19,309.59 L451.11,309.95 L452.09,310.30 L453.15,310.65 L454.30,311.00 L455.55,311.35 L456.89,311.70 L458.31,312.04 L459.78,312.38 L461.30,312.72 L462.86,313.05 L464.43,313.38 L466.00,313.70 L467.58,314.01 L469.20,314.29 L470.83,314.57 L472.50,314.84 L474.19,315.13 L475.90,315.42 L477.64,315.74 L479.40,316.10 L481.22,316.50 L483.13,316.93 L485.08,317.38 L487.04,317.86 L488.98,318.33 L490.86,318.81 L492.65,319.27 L494.30,319.70 L495.84,320.13 L497.32,320.57 L498.72,321.01 L500.06,321.44 L501.31,321.85 L502.49,322.22 L503.59,322.54 L504.60,322.80 L505.47,322.99 L506.16,323.12 L506.74,323.20 L507.26,323.24 L507.77,323.26 L508.33,323.26 L508.99,323.27 L509.80,323.30 L510.83,323.33 L512.05,323.36 L513.40,323.37 L514.77,323.38 L516.11,323.39 L517.33,323.39 L518.35,323.40 L519.10,323.40" fill="none" stroke="#d42b2b" stroke-width="1.5"/><path d="M330.70,243.70 L337.21,243.70 L343.71,242.00 L350.22,238.20 L356.73,234.20 L363.23,231.10 L369.74,230.40 L376.25,231.90 L382.75,235.10 L389.26,239.30 L395.77,246.30 L402.27,254.70 L408.78,263.60 L415.29,272.20 L421.79,279.20 L428.30,285.00 L434.81,289.00 L441.31,292.60 L447.82,295.40 L454.33,298.10 L460.83,300.60 L467.34,302.70 L473.85,305.30 L480.35,307.40 L486.86,309.50 L493.37,311.20 L499.87,312.70 L506.38,314.30 L512.89,316.50 L519.39,317.10" fill="none" stroke="#3242ad" stroke-width="1.25" stroke-dasharray="1.1,1.5"/><path d="M330.70,296.30 L337.21,296.30 L343.71,296.50 L350.22,296.90 L356.73,296.90 L363.23,296.90 L369.74,297.10 L376.25,297.50 L382.75,298.40 L389.26,299.20 L395.77,300.10 L402.27,301.50 L408.78,303.20 L415.29,304.70 L421.79,306.00 L428.30,307.70 L434.81,310.50 L441.31,313.30 L447.82,316.80 L454.33,320.30 L460.83,323.20 L467.34,324.30 L473.85,324.90 L480.35,325.50 L486.86,326.40 L493.37,327.20 L499.87,328.50 L506.38,329.50 L512.89,330.80 L519.39,331.90" fill="none" stroke="#9030a5" stroke-width="1.5"/></g>
<path d="M328.80,241.80 L332.60,245.60 M328.80,245.60 L332.60,241.80 M335.31,241.80 L339.11,245.60 M335.31,245.60 L339.11,241.80 M341.81,240.10 L345.61,243.90 M341.81,243.90 L345.61,240.10 M348.32,236.30 L352.12,240.10 M348.32,240.10 L352.12,236.30 M354.83,232.30 L358.63,236.10 M354.83,236.10 L358.63,232.30 M361.33,229.20 L365.13,233.00 M361.33,233.00 L365.13,229.20 M367.84,228.50 L371.64,232.30 M367.84,232.30 L371.64,228.50 M374.35,230.00 L378.15,233.80 M374.35,233.80 L378.15,230.00 M380.85,233.20 L384.65,237.00 M380.85,237.00 L384.65,233.20 M387.36,237.40 L391.16,241.20 M387.36,241.20 L391.16,237.40 M393.87,244.40 L397.67,248.20 M393.87,248.20 L397.67,244.40 M400.37,252.80 L404.17,256.60 M400.37,256.60 L404.17,252.80 M406.88,261.70 L410.68,265.50 M406.88,265.50 L410.68,261.70 M413.39,270.30 L417.19,274.10 M413.39,274.10 L417.19,270.30 M419.89,277.30 L423.69,281.10 M419.89,281.10 L423.69,277.30 M426.40,283.10 L430.20,286.90 M426.40,286.90 L430.20,283.10 M432.91,287.10 L436.71,290.90 M432.91,290.90 L436.71,287.10 M439.41,290.70 L443.21,294.50 M439.41,294.50 L443.21,290.70 M445.92,293.50 L449.72,297.30 M445.92,297.30 L449.72,293.50 M452.43,296.20 L456.23,300.00 M452.43,300.00 L456.23,296.20 M458.93,298.70 L462.73,302.50 M458.93,302.50 L462.73,298.70 M465.44,300.80 L469.24,304.60 M465.44,304.60 L469.24,300.80 M471.95,303.40 L475.75,307.20 M471.95,307.20 L475.75,303.40 M478.45,305.50 L482.25,309.30 M478.45,309.30 L482.25,305.50 M484.96,307.60 L488.76,311.40 M484.96,311.40 L488.76,307.60 M491.47,309.30 L495.27,313.10 M491.47,313.10 L495.27,309.30 M497.97,310.80 L501.77,314.60 M497.97,314.60 L501.77,310.80 M504.48,312.40 L508.28,316.20 M504.48,316.20 L508.28,312.40 M510.99,314.60 L514.79,318.40 M510.99,318.40 L514.79,314.60 M517.49,315.20 L521.29,319.00 M517.49,319.00 L521.29,315.20" fill="none" stroke="#3242ad" stroke-width="1.1"/><path d="M330.70,293.80 L331.63,294.70 L332.87,295.05 L332.55,296.30 L332.87,297.55 L331.63,297.90 L330.70,298.80 L329.78,297.90 L328.53,297.55 L328.85,296.30 L328.53,295.05 L329.78,294.70Z M337.21,293.80 L338.13,294.70 L339.37,295.05 L339.06,296.30 L339.37,297.55 L338.13,297.90 L337.21,298.80 L336.28,297.90 L335.04,297.55 L335.36,296.30 L335.04,295.05 L336.28,294.70Z M343.71,294.00 L344.64,294.90 L345.88,295.25 L345.56,296.50 L345.88,297.75 L344.64,298.10 L343.71,299.00 L342.79,298.10 L341.55,297.75 L341.86,296.50 L341.55,295.25 L342.79,294.90Z M350.22,294.40 L351.15,295.30 L352.39,295.65 L352.07,296.90 L352.39,298.15 L351.15,298.50 L350.22,299.40 L349.30,298.50 L348.05,298.15 L348.37,296.90 L348.05,295.65 L349.30,295.30Z M356.73,294.40 L357.65,295.30 L358.89,295.65 L358.58,296.90 L358.89,298.15 L357.65,298.50 L356.73,299.40 L355.80,298.50 L354.56,298.15 L354.88,296.90 L354.56,295.65 L355.80,295.30Z M363.23,294.40 L364.16,295.30 L365.40,295.65 L365.08,296.90 L365.40,298.15 L364.16,298.50 L363.23,299.40 L362.31,298.50 L361.07,298.15 L361.38,296.90 L361.07,295.65 L362.31,295.30Z M369.74,294.60 L370.67,295.50 L371.91,295.85 L371.59,297.10 L371.91,298.35 L370.67,298.70 L369.74,299.60 L368.81,298.70 L367.57,298.35 L367.89,297.10 L367.57,295.85 L368.81,295.50Z M376.25,295.00 L377.17,295.90 L378.41,296.25 L378.10,297.50 L378.41,298.75 L377.17,299.10 L376.25,300.00 L375.32,299.10 L374.08,298.75 L374.40,297.50 L374.08,296.25 L375.32,295.90Z M382.75,295.90 L383.68,296.80 L384.92,297.15 L384.60,298.40 L384.92,299.65 L383.68,300.00 L382.75,300.90 L381.83,300.00 L380.59,299.65 L380.90,298.40 L380.59,297.15 L381.83,296.80Z M389.26,296.70 L390.19,297.60 L391.43,297.95 L391.11,299.20 L391.43,300.45 L390.19,300.80 L389.26,301.70 L388.33,300.80 L387.09,300.45 L387.41,299.20 L387.09,297.95 L388.33,297.60Z M395.77,297.60 L396.69,298.50 L397.93,298.85 L397.62,300.10 L397.93,301.35 L396.69,301.70 L395.77,302.60 L394.84,301.70 L393.60,301.35 L393.92,300.10 L393.60,298.85 L394.84,298.50Z M402.27,299.00 L403.20,299.90 L404.44,300.25 L404.12,301.50 L404.44,302.75 L403.20,303.10 L402.27,304.00 L401.35,303.10 L400.11,302.75 L400.42,301.50 L400.11,300.25 L401.35,299.90Z M408.78,300.70 L409.71,301.60 L410.95,301.95 L410.63,303.20 L410.95,304.45 L409.71,304.80 L408.78,305.70 L407.86,304.80 L406.61,304.45 L406.93,303.20 L406.61,301.95 L407.86,301.60Z M415.29,302.20 L416.21,303.10 L417.45,303.45 L417.14,304.70 L417.45,305.95 L416.21,306.30 L415.29,307.20 L414.36,306.30 L413.12,305.95 L413.44,304.70 L413.12,303.45 L414.36,303.10Z M421.79,303.50 L422.72,304.40 L423.96,304.75 L423.64,306.00 L423.96,307.25 L422.72,307.60 L421.79,308.50 L420.87,307.60 L419.63,307.25 L419.94,306.00 L419.63,304.75 L420.87,304.40Z M428.30,305.20 L429.23,306.10 L430.47,306.45 L430.15,307.70 L430.47,308.95 L429.23,309.30 L428.30,310.20 L427.38,309.30 L426.13,308.95 L426.45,307.70 L426.13,306.45 L427.38,306.10Z M434.81,308.00 L435.73,308.90 L436.97,309.25 L436.66,310.50 L436.97,311.75 L435.73,312.10 L434.81,313.00 L433.88,312.10 L432.64,311.75 L432.96,310.50 L432.64,309.25 L433.88,308.90Z M441.31,310.80 L442.24,311.70 L443.48,312.05 L443.16,313.30 L443.48,314.55 L442.24,314.90 L441.31,315.80 L440.39,314.90 L439.15,314.55 L439.46,313.30 L439.15,312.05 L440.39,311.70Z M447.82,314.30 L448.75,315.20 L449.99,315.55 L449.67,316.80 L449.99,318.05 L448.75,318.40 L447.82,319.30 L446.89,318.40 L445.65,318.05 L445.97,316.80 L445.65,315.55 L446.89,315.20Z M454.33,317.80 L455.25,318.70 L456.49,319.05 L456.18,320.30 L456.49,321.55 L455.25,321.90 L454.33,322.80 L453.40,321.90 L452.16,321.55 L452.48,320.30 L452.16,319.05 L453.40,318.70Z M460.83,320.70 L461.76,321.60 L463.00,321.95 L462.68,323.20 L463.00,324.45 L461.76,324.80 L460.83,325.70 L459.91,324.80 L458.67,324.45 L458.98,323.20 L458.67,321.95 L459.91,321.60Z M467.34,321.80 L468.26,322.70 L469.51,323.05 L469.19,324.30 L469.51,325.55 L468.26,325.90 L467.34,326.80 L466.41,325.90 L465.17,325.55 L465.49,324.30 L465.17,323.05 L466.41,322.70Z M473.85,322.40 L474.77,323.30 L476.01,323.65 L475.70,324.90 L476.01,326.15 L474.77,326.50 L473.85,327.40 L472.92,326.50 L471.68,326.15 L472.00,324.90 L471.68,323.65 L472.92,323.30Z M480.35,323.00 L481.28,323.90 L482.52,324.25 L482.20,325.50 L482.52,326.75 L481.28,327.10 L480.35,328.00 L479.43,327.10 L478.19,326.75 L478.50,325.50 L478.19,324.25 L479.43,323.90Z M486.86,323.90 L487.79,324.80 L489.03,325.15 L488.71,326.40 L489.03,327.65 L487.79,328.00 L486.86,328.90 L485.94,328.00 L484.69,327.65 L485.01,326.40 L484.69,325.15 L485.94,324.80Z M493.37,324.70 L494.29,325.60 L495.53,325.95 L495.22,327.20 L495.53,328.45 L494.29,328.80 L493.37,329.70 L492.44,328.80 L491.20,328.45 L491.52,327.20 L491.20,325.95 L492.44,325.60Z M499.87,326.00 L500.80,326.90 L502.04,327.25 L501.72,328.50 L502.04,329.75 L500.80,330.10 L499.87,331.00 L498.95,330.10 L497.71,329.75 L498.02,328.50 L497.71,327.25 L498.95,326.90Z M506.38,327.00 L507.31,327.90 L508.55,328.25 L508.23,329.50 L508.55,330.75 L507.31,331.10 L506.38,332.00 L505.45,331.10 L504.21,330.75 L504.53,329.50 L504.21,328.25 L505.45,327.90Z M512.89,328.30 L513.81,329.20 L515.05,329.55 L514.74,330.80 L515.05,332.05 L513.81,332.40 L512.89,333.30 L511.96,332.40 L510.72,332.05 L511.04,330.80 L510.72,329.55 L511.96,329.20Z M519.39,329.40 L520.32,330.30 L521.56,330.65 L521.24,331.90 L521.56,333.15 L520.32,333.50 L519.39,334.40 L518.47,333.50 L517.23,333.15 L517.54,331.90 L517.23,330.65 L518.47,330.30Z" fill="#9030a5" stroke="#9030a5" stroke-width="0.6"/>
<text x="326.30" y="395.30" text-anchor="end" font-family="Liberation Serif, serif" font-size="13" fill="#1e1e1e">0</text>
<text x="326.30" y="364.30" text-anchor="end" font-family="Liberation Serif, serif" font-size="13" fill="#1e1e1e">0.5</text>
<text x="326.30" y="333.30" text-anchor="end" font-family="Liberation Serif, serif" font-size="13" fill="#1e1e1e">1</text>
<text x="326.30" y="302.30" text-anchor="end" font-family="Liberation Serif, serif" font-size="13" fill="#1e1e1e">1.5</text>
<text x="326.30" y="271.30" text-anchor="end" font-family="Liberation Serif, serif" font-size="13" fill="#1e1e1e">2</text>
<text x="326.30" y="240.30" text-anchor="end" font-family="Liberation Serif, serif" font-size="13" fill="#1e1e1e">2.5</text>
<text x="330.10" y="406.30" text-anchor="middle" font-family="Liberation Serif, serif" font-size="13" fill="#1e1e1e">0</text>
<text x="395.17" y="406.30" text-anchor="middle" font-family="Liberation Serif, serif" font-size="13" fill="#1e1e1e">0.1</text>
<text x="460.23" y="406.30" text-anchor="middle" font-family="Liberation Serif, serif" font-size="13" fill="#1e1e1e">0.2</text>
<text x="525.30" y="406.30" text-anchor="middle" font-family="Liberation Serif, serif" font-size="13" fill="#1e1e1e">0.3</text>
<text x="427.70" y="422.70" text-anchor="middle" font-family="Liberation Serif, serif" font-size="14" fill="#1e1e1e"><tspan font-style="italic">r</tspan> (m)</text>
<rect x="354.4" y="322.5" width="52.0" height="55.69999999999999" fill="#fff" stroke="#3a3a3a" stroke-width="0.9"/>
<path d="M356.10,330.10 H369.40" stroke="#3242ad" stroke-width="1.25" stroke-dasharray="1.1,1.5"/>
<path d="M360.85,328.20 L364.65,332.00 M360.85,332.00 L364.65,328.20" stroke="#3242ad" stroke-width="1.1"/>
<path d="M356.10,343.70 H369.40" stroke="#78bd3c" stroke-width="1.5" stroke-dasharray="5.5,4.5"/>
<path d="M356.10,357.30 H369.40" stroke="#d42b2b" stroke-width="1.5"/>
<path d="M356.10,370.90 H369.40" stroke="#9030a5" stroke-width="1.5"/>
<path d="M362.75,368.40 L363.68,369.30 L364.92,369.65 L364.60,370.90 L364.92,372.15 L363.68,372.50 L362.75,373.40 L361.82,372.50 L360.58,372.15 L360.90,370.90 L360.58,369.65 L361.82,369.30Z" fill="#9030a5" stroke="#9030a5" stroke-width="0.6"/>
<text x="372.80" y="334.10" font-family="Liberation Serif, serif" font-size="11.5" fill="#1e1e1e">-0.05T</text>
<text x="372.80" y="347.70" font-family="Liberation Serif, serif" font-size="11.5" fill="#1e1e1e">-0.1T</text>
<text x="372.80" y="361.30" font-family="Liberation Serif, serif" font-size="11.5" fill="#1e1e1e">-0.15T</text>
<text x="372.80" y="374.90" font-family="Liberation Serif, serif" font-size="11.5" fill="#1e1e1e">-0.2T</text>
<text transform="translate(11.45,103.25) rotate(-90)" font-family="Liberation Serif, serif" font-size="14" font-style="italic" fill="#1e1e1e">B</text>
<text transform="translate(18.55,94.75) rotate(-90)" font-family="Liberation Serif, serif" font-size="11" font-style="italic" fill="#1e1e1e">z</text>
<text transform="translate(11.45,86.20) rotate(-90)" font-family="Liberation Serif, serif" font-size="14" fill="#1e1e1e">(T)</text>
<text transform="translate(292.00,108.50) rotate(-90)" font-family="Liberation Serif, serif" font-size="14" font-style="italic" fill="#1e1e1e">Φ</text>
<text transform="translate(299.20,98.20) rotate(-90)" font-family="Liberation Serif, serif" font-size="11" font-style="italic" fill="#1e1e1e">p</text>
<text transform="translate(291.60,89.15) rotate(-90)" font-family="Liberation Serif, serif" font-size="14" fill="#1e1e1e">(Wb)</text>
<text transform="translate(15.00,331.30) rotate(-90)" font-family="Liberation Serif, serif" font-size="14" font-style="italic" fill="#1e1e1e">T</text>
<text transform="translate(21.60,323.40) rotate(-90)" font-family="Liberation Serif, serif" font-size="11" font-style="italic" fill="#1e1e1e">tot</text>
<text transform="translate(14.75,307.10) rotate(-90)" font-family="Liberation Serif, serif" font-size="14" fill="#1e1e1e">(eV)</text>
<text transform="translate(300.00,342.80) rotate(-90)" font-family="Liberation Serif, serif" font-size="14" font-style="italic" fill="#1e1e1e">n</text>
<text transform="translate(305.85,335.55) rotate(-90)" font-family="Liberation Serif, serif" font-size="11" font-style="italic" fill="#1e1e1e">e</text>
<text transform="translate(299.60,327.40) rotate(-90)" font-family="Liberation Serif, serif" font-size="14" fill="#1e1e1e">(10</text>
<text transform="translate(291.35,308.15) rotate(-90)" font-family="Liberation Serif, serif" font-size="11" fill="#1e1e1e">22</text>
<text transform="translate(299.80,295.45) rotate(-90)" font-family="Liberation Serif, serif" font-size="14" fill="#1e1e1e">m</text>
<text transform="translate(291.80,284.45) rotate(-90)" font-family="Liberation Serif, serif" font-size="11" fill="#1e1e1e">-3</text>
<text transform="translate(299.75,274.20) rotate(-90)" font-family="Liberation Serif, serif" font-size="14" fill="#1e1e1e">)</text>
</svg>
</body></html>
